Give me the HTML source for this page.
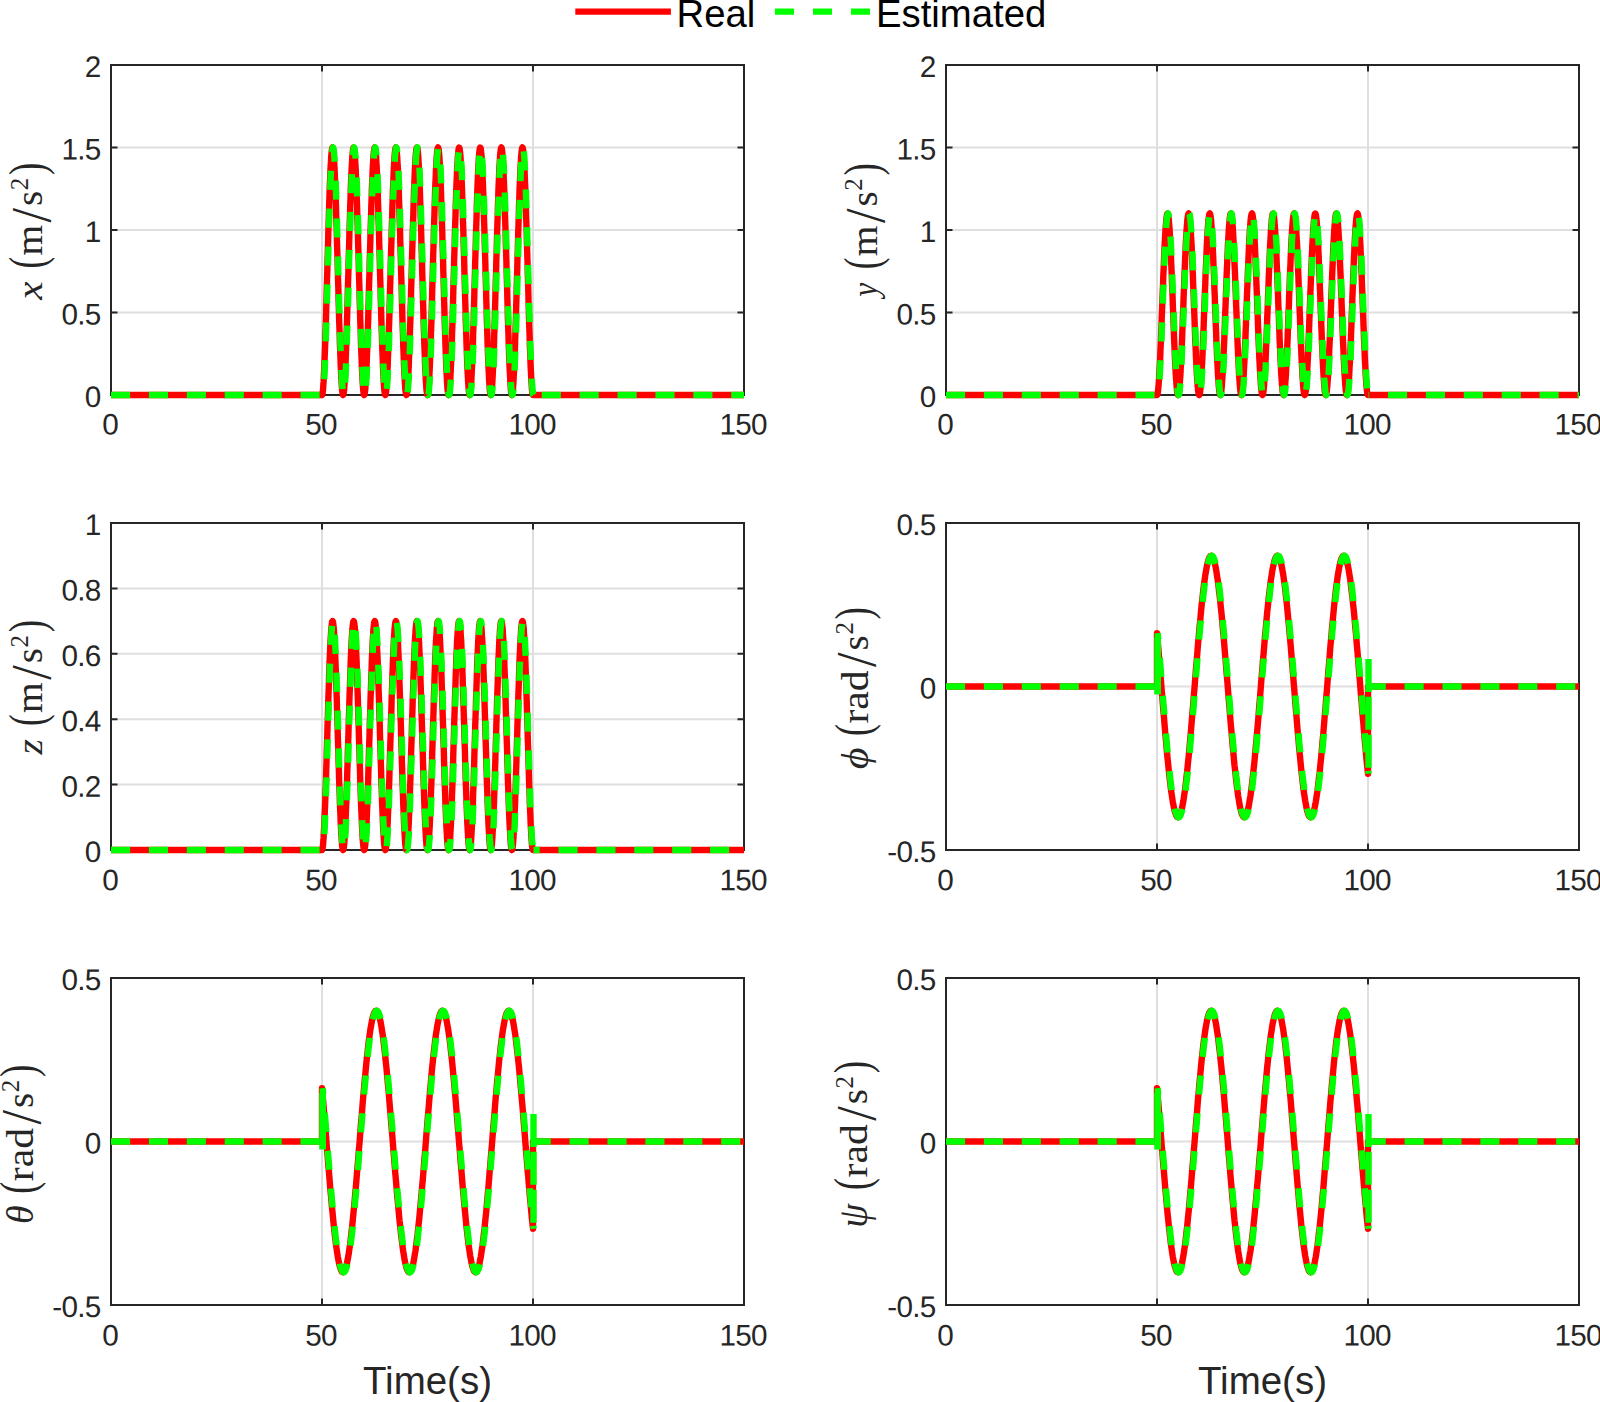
<!DOCTYPE html>
<html><head><meta charset="utf-8"><title>Real vs Estimated</title>
<style>
html,body{margin:0;padding:0;background:#fff;overflow:hidden;}
svg{display:block;}
.t{font-family:"Liberation Sans",sans-serif;font-size:29.7px;fill:#262626;letter-spacing:-0.7px;}
.l{font-family:"Liberation Sans",sans-serif;font-size:38.5px;fill:#262626;}
.s{font-family:"Liberation Serif",serif;fill:#262626;}
.si{font-family:"Liberation Serif",serif;font-style:italic;fill:#262626;}
.sl{font-family:"DejaVu Sans",sans-serif;font-weight:200;fill:#262626;}
</style></head><body>
<svg width="1600" height="1402" viewBox="0 0 1600 1402">
<rect width="1600" height="1402" fill="#fff"/>
<defs><clipPath id="c0"><rect x="110.7" y="61" width="633.6" height="338"/></clipPath><clipPath id="c1"><rect x="945.7" y="61" width="633.6" height="338"/></clipPath><clipPath id="c2"><rect x="110.7" y="519" width="633.6" height="335"/></clipPath><clipPath id="c3"><rect x="945.7" y="519" width="633.6" height="335"/></clipPath><clipPath id="c4"><rect x="110.7" y="974" width="633.6" height="335"/></clipPath><clipPath id="c5"><rect x="945.7" y="974" width="633.6" height="335"/></clipPath></defs>
<g>
<path d="M322 65V395M533 65V395M111 312.5H744M111 230H744M111 147.5H744" stroke="#dfdfdf" stroke-width="2" fill="none"/>
<path d="M111 65H744V395H111ZM322 395v-6.5M322 65v6.5M533 395v-6.5M533 65v6.5M111 312.5h6.5M744 312.5h-6.5M111 230h6.5M744 230h-6.5M111 147.5h6.5M744 147.5h-6.5" stroke="#262626" stroke-width="2" fill="none" stroke-linejoin="miter"/>
<g clip-path="url(#c0)" fill="none" stroke-width="6.4">
<path d="M111.0 395.0L322.0 395.0L322.3 394.6L322.5 393.5L322.8 391.6L323.1 388.9L323.3 385.6L323.6 381.5L323.8 376.8L324.1 371.4L324.4 365.4L324.6 358.8L324.9 351.6L325.2 344.0L325.4 335.9L325.7 327.4L326.0 318.6L326.2 309.5L326.5 300.1L326.7 290.6L327.0 281.0L327.3 271.3L327.5 261.5L327.8 251.9L328.1 242.4L328.3 233.0L328.6 223.9L328.9 215.1L329.1 206.6L329.4 198.5L329.6 190.9L329.9 183.7L330.2 177.1L330.4 171.1L330.7 165.7L331.0 161.0L331.2 156.9L331.5 153.6L331.8 150.9L332.0 149.0L332.3 147.9L332.6 147.5L332.8 147.9L333.1 149.0L333.3 150.9L333.6 153.6L333.9 156.9L334.1 161.0L334.4 165.7L334.7 171.1L334.9 177.1L335.2 183.7L335.5 190.9L335.7 198.5L336.0 206.6L336.2 215.1L336.5 223.9L336.8 233.0L337.0 242.4L337.3 251.9L337.6 261.5L337.8 271.2L338.1 281.0L338.4 290.6L338.6 300.1L338.9 309.5L339.1 318.6L339.4 327.4L339.7 335.9L339.9 344.0L340.2 351.6L340.5 358.8L340.7 365.4L341.0 371.4L341.3 376.8L341.5 381.5L341.8 385.6L342.0 388.9L342.3 391.6L342.6 393.5L342.8 394.6L343.1 395.0L343.4 394.6L343.6 393.5L343.9 391.6L344.2 388.9L344.4 385.6L344.7 381.5L344.9 376.8L345.2 371.4L345.5 365.4L345.7 358.8L346.0 351.6L346.3 344.0L346.5 335.9L346.8 327.4L347.1 318.6L347.3 309.5L347.6 300.1L347.8 290.6L348.1 281.0L348.4 271.3L348.6 261.5L348.9 251.9L349.2 242.4L349.4 233.0L349.7 223.9L350.0 215.1L350.2 206.6L350.5 198.5L350.7 190.9L351.0 183.7L351.3 177.1L351.5 171.1L351.8 165.7L352.1 161.0L352.3 156.9L352.6 153.6L352.9 150.9L353.1 149.0L353.4 147.9L353.6 147.5L353.9 147.9L354.2 149.0L354.4 150.9L354.7 153.6L355.0 156.9L355.2 161.0L355.5 165.7L355.8 171.1L356.0 177.1L356.3 183.7L356.6 190.9L356.8 198.5L357.1 206.6L357.3 215.1L357.6 223.9L357.9 233.0L358.1 242.4L358.4 251.9L358.7 261.5L358.9 271.2L359.2 281.0L359.5 290.6L359.7 300.1L360.0 309.5L360.2 318.6L360.5 327.4L360.8 335.9L361.0 344.0L361.3 351.6L361.6 358.8L361.8 365.4L362.1 371.4L362.4 376.8L362.6 381.5L362.9 385.6L363.1 388.9L363.4 391.6L363.7 393.5L363.9 394.6L364.2 395.0L364.5 394.6L364.7 393.5L365.0 391.6L365.3 388.9L365.5 385.6L365.8 381.5L366.0 376.8L366.3 371.4L366.6 365.4L366.8 358.8L367.1 351.6L367.4 344.0L367.6 335.9L367.9 327.4L368.2 318.6L368.4 309.5L368.7 300.1L368.9 290.6L369.2 281.0L369.5 271.3L369.7 261.5L370.0 251.9L370.3 242.4L370.5 233.0L370.8 223.9L371.1 215.1L371.3 206.6L371.6 198.5L371.8 190.9L372.1 183.7L372.4 177.1L372.6 171.1L372.9 165.7L373.2 161.0L373.4 156.9L373.7 153.6L374.0 150.9L374.2 149.0L374.5 147.9L374.8 147.5L375.0 147.9L375.3 149.0L375.5 150.9L375.8 153.6L376.1 156.9L376.3 161.0L376.6 165.7L376.9 171.1L377.1 177.1L377.4 183.7L377.7 190.9L377.9 198.5L378.2 206.6L378.4 215.1L378.7 223.9L379.0 233.0L379.2 242.4L379.5 251.9L379.8 261.5L380.0 271.3L380.3 281.0L380.6 290.6L380.8 300.1L381.1 309.5L381.3 318.6L381.6 327.4L381.9 335.9L382.1 344.0L382.4 351.6L382.7 358.8L382.9 365.4L383.2 371.4L383.5 376.8L383.7 381.5L384.0 385.6L384.2 388.9L384.5 391.6L384.8 393.5L385.0 394.6L385.3 395.0L385.6 394.6L385.8 393.5L386.1 391.6L386.4 388.9L386.6 385.6L386.9 381.5L387.1 376.8L387.4 371.4L387.7 365.4L387.9 358.8L388.2 351.6L388.5 344.0L388.7 335.9L389.0 327.4L389.3 318.6L389.5 309.5L389.8 300.1L390.0 290.6L390.3 281.0L390.6 271.3L390.8 261.5L391.1 251.9L391.4 242.4L391.6 233.0L391.9 223.9L392.2 215.1L392.4 206.6L392.7 198.5L392.9 190.9L393.2 183.7L393.5 177.1L393.7 171.1L394.0 165.7L394.3 161.0L394.5 156.9L394.8 153.6L395.1 150.9L395.3 149.0L395.6 147.9L395.9 147.5L396.1 147.9L396.4 149.0L396.6 150.9L396.9 153.6L397.2 156.9L397.4 161.0L397.7 165.7L398.0 171.1L398.2 177.1L398.5 183.7L398.8 190.9L399.0 198.5L399.3 206.6L399.5 215.1L399.8 223.9L400.1 233.0L400.3 242.4L400.6 251.9L400.9 261.5L401.1 271.2L401.4 281.0L401.7 290.6L401.9 300.1L402.2 309.5L402.4 318.6L402.7 327.4L403.0 335.9L403.2 344.0L403.5 351.6L403.8 358.8L404.0 365.4L404.3 371.4L404.6 376.8L404.8 381.5L405.1 385.6L405.3 388.9L405.6 391.6L405.9 393.5L406.1 394.6L406.4 395.0L406.7 394.6L406.9 393.5L407.2 391.6L407.5 388.9L407.7 385.6L408.0 381.5L408.2 376.8L408.5 371.4L408.8 365.4L409.0 358.8L409.3 351.6L409.6 344.0L409.8 335.9L410.1 327.4L410.4 318.6L410.6 309.5L410.9 300.1L411.1 290.6L411.4 281.0L411.7 271.2L411.9 261.5L412.2 251.9L412.5 242.4L412.7 233.0L413.0 223.9L413.3 215.1L413.5 206.6L413.8 198.5L414.0 190.9L414.3 183.7L414.6 177.1L414.8 171.1L415.1 165.7L415.4 161.0L415.6 156.9L415.9 153.6L416.2 150.9L416.4 149.0L416.7 147.9L416.9 147.5L417.2 147.9L417.5 149.0L417.7 150.9L418.0 153.6L418.3 156.9L418.5 161.0L418.8 165.7L419.1 171.1L419.3 177.1L419.6 183.7L419.9 190.9L420.1 198.5L420.4 206.6L420.6 215.1L420.9 223.9L421.2 233.0L421.4 242.4L421.7 251.9L422.0 261.5L422.2 271.3L422.5 281.0L422.8 290.6L423.0 300.1L423.3 309.5L423.5 318.6L423.8 327.4L424.1 335.9L424.3 344.0L424.6 351.6L424.9 358.8L425.1 365.4L425.4 371.4L425.7 376.8L425.9 381.5L426.2 385.6L426.4 388.9L426.7 391.6L427.0 393.5L427.2 394.6L427.5 395.0L427.8 394.6L428.0 393.5L428.3 391.6L428.6 388.9L428.8 385.6L429.1 381.5L429.3 376.8L429.6 371.4L429.9 365.4L430.1 358.8L430.4 351.6L430.7 344.0L430.9 335.9L431.2 327.4L431.5 318.6L431.7 309.5L432.0 300.1L432.2 290.6L432.5 281.0L432.8 271.2L433.0 261.5L433.3 251.9L433.6 242.4L433.8 233.0L434.1 223.9L434.4 215.1L434.6 206.6L434.9 198.5L435.1 190.9L435.4 183.7L435.7 177.1L435.9 171.1L436.2 165.7L436.5 161.0L436.7 156.9L437.0 153.6L437.3 150.9L437.5 149.0L437.8 147.9L438.1 147.5L438.3 147.9L438.6 149.0L438.8 150.9L439.1 153.6L439.4 156.9L439.6 161.0L439.9 165.7L440.2 171.1L440.4 177.1L440.7 183.7L441.0 190.9L441.2 198.5L441.5 206.6L441.7 215.1L442.0 223.9L442.3 233.0L442.5 242.4L442.8 251.9L443.1 261.5L443.3 271.3L443.6 281.0L443.9 290.6L444.1 300.1L444.4 309.5L444.6 318.6L444.9 327.4L445.2 335.9L445.4 344.0L445.7 351.6L446.0 358.8L446.2 365.4L446.5 371.4L446.8 376.8L447.0 381.5L447.3 385.6L447.5 388.9L447.8 391.6L448.1 393.5L448.3 394.6L448.6 395.0L448.9 394.6L449.1 393.5L449.4 391.6L449.7 388.9L449.9 385.6L450.2 381.5L450.4 376.8L450.7 371.4L451.0 365.4L451.2 358.8L451.5 351.6L451.8 344.0L452.0 335.9L452.3 327.4L452.6 318.6L452.8 309.5L453.1 300.1L453.3 290.6L453.6 281.0L453.9 271.3L454.1 261.5L454.4 251.9L454.7 242.4L454.9 233.0L455.2 223.9L455.5 215.1L455.7 206.6L456.0 198.5L456.2 190.9L456.5 183.7L456.8 177.1L457.0 171.1L457.3 165.7L457.6 161.0L457.8 156.9L458.1 153.6L458.4 150.9L458.6 149.0L458.9 147.9L459.1 147.5L459.4 147.9L459.7 149.0L459.9 150.9L460.2 153.6L460.5 156.9L460.7 161.0L461.0 165.7L461.3 171.1L461.5 177.1L461.8 183.7L462.1 190.9L462.3 198.5L462.6 206.6L462.8 215.1L463.1 223.9L463.4 233.0L463.6 242.4L463.9 251.9L464.2 261.5L464.4 271.2L464.7 281.0L465.0 290.6L465.2 300.1L465.5 309.5L465.7 318.6L466.0 327.4L466.3 335.9L466.5 344.0L466.8 351.6L467.1 358.8L467.3 365.4L467.6 371.4L467.9 376.8L468.1 381.5L468.4 385.6L468.6 388.9L468.9 391.6L469.2 393.5L469.4 394.6L469.7 395.0L470.0 394.6L470.2 393.5L470.5 391.6L470.8 388.9L471.0 385.6L471.3 381.5L471.5 376.8L471.8 371.4L472.1 365.4L472.3 358.8L472.6 351.6L472.9 344.0L473.1 335.9L473.4 327.4L473.7 318.6L473.9 309.5L474.2 300.1L474.4 290.6L474.7 281.0L475.0 271.2L475.2 261.5L475.5 251.9L475.8 242.4L476.0 233.0L476.3 223.9L476.6 215.1L476.8 206.6L477.1 198.5L477.3 190.9L477.6 183.7L477.9 177.1L478.1 171.1L478.4 165.7L478.7 161.0L478.9 156.9L479.2 153.6L479.5 150.9L479.7 149.0L480.0 147.9L480.2 147.5L480.5 147.9L480.8 149.0L481.0 150.9L481.3 153.6L481.6 156.9L481.8 161.0L482.1 165.7L482.4 171.1L482.6 177.1L482.9 183.7L483.2 190.9L483.4 198.5L483.7 206.6L483.9 215.1L484.2 223.9L484.5 233.0L484.7 242.4L485.0 251.9L485.3 261.5L485.5 271.2L485.8 281.0L486.1 290.6L486.3 300.1L486.6 309.5L486.8 318.6L487.1 327.4L487.4 335.9L487.6 344.0L487.9 351.6L488.2 358.8L488.4 365.4L488.7 371.4L489.0 376.8L489.2 381.5L489.5 385.6L489.7 388.9L490.0 391.6L490.3 393.5L490.5 394.6L490.8 395.0L491.1 394.6L491.3 393.5L491.6 391.6L491.9 388.9L492.1 385.6L492.4 381.5L492.6 376.8L492.9 371.4L493.2 365.4L493.4 358.8L493.7 351.6L494.0 344.0L494.2 335.9L494.5 327.4L494.8 318.6L495.0 309.5L495.3 300.1L495.5 290.6L495.8 281.0L496.1 271.3L496.3 261.5L496.6 251.9L496.9 242.4L497.1 233.0L497.4 223.9L497.7 215.1L497.9 206.6L498.2 198.5L498.4 190.9L498.7 183.7L499.0 177.1L499.2 171.1L499.5 165.7L499.8 161.0L500.0 156.9L500.3 153.6L500.6 150.9L500.8 149.0L501.1 147.9L501.4 147.5L501.6 147.9L501.9 149.0L502.1 150.9L502.4 153.6L502.7 156.9L502.9 161.0L503.2 165.7L503.5 171.1L503.7 177.1L504.0 183.7L504.3 190.9L504.5 198.5L504.8 206.6L505.0 215.1L505.3 223.9L505.6 233.0L505.8 242.4L506.1 251.9L506.4 261.5L506.6 271.2L506.9 281.0L507.2 290.6L507.4 300.1L507.7 309.5L507.9 318.6L508.2 327.4L508.5 335.9L508.7 344.0L509.0 351.6L509.3 358.8L509.5 365.4L509.8 371.4L510.1 376.8L510.3 381.5L510.6 385.6L510.8 388.9L511.1 391.6L511.4 393.5L511.6 394.6L511.9 395.0L512.2 394.6L512.4 393.5L512.7 391.6L513.0 388.9L513.2 385.6L513.5 381.5L513.7 376.8L514.0 371.4L514.3 365.4L514.5 358.8L514.8 351.6L515.1 344.0L515.3 335.9L515.6 327.4L515.9 318.6L516.1 309.5L516.4 300.1L516.6 290.6L516.9 281.0L517.2 271.3L517.4 261.5L517.7 251.9L518.0 242.4L518.2 233.0L518.5 223.9L518.8 215.1L519.0 206.6L519.3 198.5L519.5 190.9L519.8 183.7L520.1 177.1L520.3 171.1L520.6 165.7L520.9 161.0L521.1 156.9L521.4 153.6L521.7 150.9L521.9 149.0L522.2 147.9L522.5 147.5L522.7 147.9L523.0 149.0L523.2 150.9L523.5 153.6L523.8 156.9L524.0 161.0L524.3 165.7L524.6 171.1L524.8 177.1L525.1 183.7L525.4 190.9L525.6 198.5L525.9 206.6L526.1 215.1L526.4 223.9L526.7 233.0L526.9 242.4L527.2 251.9L527.5 261.5L527.7 271.2L528.0 281.0L528.3 290.6L528.5 300.1L528.8 309.5L529.0 318.6L529.3 327.4L529.6 335.9L529.8 344.0L530.1 351.6L530.4 358.8L530.6 365.4L530.9 371.4L531.2 376.8L531.4 381.5L531.7 385.6L531.9 388.9L532.2 391.6L532.5 393.5L532.7 394.6L533.0 395.0L744.0 395.0" stroke="#ff0000" stroke-linejoin="round"/>
<path d="M111.0 395.0L322.5 395.0L322.8 394.6L323.0 393.5L323.3 391.6L323.6 388.9L323.8 385.6L324.1 381.5L324.4 376.8L324.6 371.4L324.9 365.4L325.1 358.8L325.4 351.6L325.7 344.0L325.9 335.9L326.2 327.4L326.5 318.6L326.7 309.5L327.0 300.1L327.3 290.6L327.5 281.0L327.8 271.3L328.0 261.5L328.3 251.9L328.6 242.4L328.8 233.0L329.1 223.9L329.4 215.1L329.6 206.6L329.9 198.5L330.2 190.9L330.4 183.7L330.7 177.1L330.9 171.1L331.2 165.7L331.5 161.0L331.7 156.9L332.0 153.6L332.3 150.9L332.5 149.0L332.8 147.9L333.1 147.5L333.3 147.9L333.6 149.0L333.8 150.9L334.1 153.6L334.4 156.9L334.6 161.0L334.9 165.7L335.2 171.1L335.4 177.1L335.7 183.7L336.0 190.9L336.2 198.5L336.5 206.6L336.7 215.1L337.0 223.9L337.3 233.0L337.5 242.4L337.8 251.9L338.1 261.5L338.3 271.2L338.6 281.0L338.9 290.6L339.1 300.1L339.4 309.5L339.7 318.6L339.9 327.4L340.2 335.9L340.4 344.0L340.7 351.6L341.0 358.8L341.2 365.4L341.5 371.4L341.8 376.8L342.0 381.5L342.3 385.6L342.6 388.9L342.8 391.6L343.1 393.5L343.3 394.6L343.6 395.0L343.9 394.6L344.1 393.5L344.4 391.6L344.7 388.9L344.9 385.6L345.2 381.5L345.5 376.8L345.7 371.4L346.0 365.4L346.2 358.8L346.5 351.6L346.8 344.0L347.0 335.9L347.3 327.4L347.6 318.6L347.8 309.5L348.1 300.1L348.4 290.6L348.6 281.0L348.9 271.3L349.1 261.5L349.4 251.9L349.7 242.4L349.9 233.0L350.2 223.9L350.5 215.1L350.7 206.6L351.0 198.5L351.3 190.9L351.5 183.7L351.8 177.1L352.0 171.1L352.3 165.7L352.6 161.0L352.8 156.9L353.1 153.6L353.4 150.9L353.6 149.0L353.9 147.9L354.2 147.5L354.4 147.9L354.7 149.0L354.9 150.9L355.2 153.6L355.5 156.9L355.7 161.0L356.0 165.7L356.3 171.1L356.5 177.1L356.8 183.7L357.1 190.9L357.3 198.5L357.6 206.6L357.8 215.1L358.1 223.9L358.4 233.0L358.6 242.4L358.9 251.9L359.2 261.5L359.4 271.2L359.7 281.0L360.0 290.6L360.2 300.1L360.5 309.5L360.8 318.6L361.0 327.4L361.3 335.9L361.5 344.0L361.8 351.6L362.1 358.8L362.3 365.4L362.6 371.4L362.9 376.8L363.1 381.5L363.4 385.6L363.7 388.9L363.9 391.6L364.2 393.5L364.4 394.6L364.7 395.0L365.0 394.6L365.2 393.5L365.5 391.6L365.8 388.9L366.0 385.6L366.3 381.5L366.6 376.8L366.8 371.4L367.1 365.4L367.3 358.8L367.6 351.6L367.9 344.0L368.1 335.9L368.4 327.4L368.7 318.6L368.9 309.5L369.2 300.1L369.5 290.6L369.7 281.0L370.0 271.3L370.2 261.5L370.5 251.9L370.8 242.4L371.0 233.0L371.3 223.9L371.6 215.1L371.8 206.6L372.1 198.5L372.4 190.9L372.6 183.7L372.9 177.1L373.1 171.1L373.4 165.7L373.7 161.0L373.9 156.9L374.2 153.6L374.5 150.9L374.7 149.0L375.0 147.9L375.3 147.5L375.5 147.9L375.8 149.0L376.0 150.9L376.3 153.6L376.6 156.9L376.8 161.0L377.1 165.7L377.4 171.1L377.6 177.1L377.9 183.7L378.2 190.9L378.4 198.5L378.7 206.6L378.9 215.1L379.2 223.9L379.5 233.0L379.7 242.4L380.0 251.9L380.3 261.5L380.5 271.3L380.8 281.0L381.1 290.6L381.3 300.1L381.6 309.5L381.9 318.6L382.1 327.4L382.4 335.9L382.6 344.0L382.9 351.6L383.2 358.8L383.4 365.4L383.7 371.4L384.0 376.8L384.2 381.5L384.5 385.6L384.8 388.9L385.0 391.6L385.3 393.5L385.5 394.6L385.8 395.0L386.1 394.6L386.3 393.5L386.6 391.6L386.9 388.9L387.1 385.6L387.4 381.5L387.7 376.8L387.9 371.4L388.2 365.4L388.4 358.8L388.7 351.6L389.0 344.0L389.2 335.9L389.5 327.4L389.8 318.6L390.0 309.5L390.3 300.1L390.6 290.6L390.8 281.0L391.1 271.3L391.3 261.5L391.6 251.9L391.9 242.4L392.1 233.0L392.4 223.9L392.7 215.1L392.9 206.6L393.2 198.5L393.5 190.9L393.7 183.7L394.0 177.1L394.2 171.1L394.5 165.7L394.8 161.0L395.0 156.9L395.3 153.6L395.6 150.9L395.8 149.0L396.1 147.9L396.4 147.5L396.6 147.9L396.9 149.0L397.1 150.9L397.4 153.6L397.7 156.9L397.9 161.0L398.2 165.7L398.5 171.1L398.7 177.1L399.0 183.7L399.3 190.9L399.5 198.5L399.8 206.6L400.0 215.1L400.3 223.9L400.6 233.0L400.8 242.4L401.1 251.9L401.4 261.5L401.6 271.2L401.9 281.0L402.2 290.6L402.4 300.1L402.7 309.5L403.0 318.6L403.2 327.4L403.5 335.9L403.7 344.0L404.0 351.6L404.3 358.8L404.5 365.4L404.8 371.4L405.1 376.8L405.3 381.5L405.6 385.6L405.9 388.9L406.1 391.6L406.4 393.5L406.6 394.6L406.9 395.0L407.2 394.6L407.4 393.5L407.7 391.6L408.0 388.9L408.2 385.6L408.5 381.5L408.8 376.8L409.0 371.4L409.3 365.4L409.5 358.8L409.8 351.6L410.1 344.0L410.3 335.9L410.6 327.4L410.9 318.6L411.1 309.5L411.4 300.1L411.7 290.6L411.9 281.0L412.2 271.2L412.4 261.5L412.7 251.9L413.0 242.4L413.2 233.0L413.5 223.9L413.8 215.1L414.0 206.6L414.3 198.5L414.6 190.9L414.8 183.7L415.1 177.1L415.3 171.1L415.6 165.7L415.9 161.0L416.1 156.9L416.4 153.6L416.7 150.9L416.9 149.0L417.2 147.9L417.5 147.5L417.7 147.9L418.0 149.0L418.2 150.9L418.5 153.6L418.8 156.9L419.0 161.0L419.3 165.7L419.6 171.1L419.8 177.1L420.1 183.7L420.4 190.9L420.6 198.5L420.9 206.6L421.1 215.1L421.4 223.9L421.7 233.0L421.9 242.4L422.2 251.9L422.5 261.5L422.7 271.3L423.0 281.0L423.3 290.6L423.5 300.1L423.8 309.5L424.1 318.6L424.3 327.4L424.6 335.9L424.8 344.0L425.1 351.6L425.4 358.8L425.6 365.4L425.9 371.4L426.2 376.8L426.4 381.5L426.7 385.6L427.0 388.9L427.2 391.6L427.5 393.5L427.7 394.6L428.0 395.0L428.3 394.6L428.5 393.5L428.8 391.6L429.1 388.9L429.3 385.6L429.6 381.5L429.9 376.8L430.1 371.4L430.4 365.4L430.6 358.8L430.9 351.6L431.2 344.0L431.4 335.9L431.7 327.4L432.0 318.6L432.2 309.5L432.5 300.1L432.8 290.6L433.0 281.0L433.3 271.2L433.5 261.5L433.8 251.9L434.1 242.4L434.3 233.0L434.6 223.9L434.9 215.1L435.1 206.6L435.4 198.5L435.7 190.9L435.9 183.7L436.2 177.1L436.4 171.1L436.7 165.7L437.0 161.0L437.2 156.9L437.5 153.6L437.8 150.9L438.0 149.0L438.3 147.9L438.6 147.5L438.8 147.9L439.1 149.0L439.3 150.9L439.6 153.6L439.9 156.9L440.1 161.0L440.4 165.7L440.7 171.1L440.9 177.1L441.2 183.7L441.5 190.9L441.7 198.5L442.0 206.6L442.2 215.1L442.5 223.9L442.8 233.0L443.0 242.4L443.3 251.9L443.6 261.5L443.8 271.3L444.1 281.0L444.4 290.6L444.6 300.1L444.9 309.5L445.2 318.6L445.4 327.4L445.7 335.9L445.9 344.0L446.2 351.6L446.5 358.8L446.7 365.4L447.0 371.4L447.3 376.8L447.5 381.5L447.8 385.6L448.1 388.9L448.3 391.6L448.6 393.5L448.8 394.6L449.1 395.0L449.4 394.6L449.6 393.5L449.9 391.6L450.2 388.9L450.4 385.6L450.7 381.5L451.0 376.8L451.2 371.4L451.5 365.4L451.7 358.8L452.0 351.6L452.3 344.0L452.5 335.9L452.8 327.4L453.1 318.6L453.3 309.5L453.6 300.1L453.9 290.6L454.1 281.0L454.4 271.3L454.6 261.5L454.9 251.9L455.2 242.4L455.4 233.0L455.7 223.9L456.0 215.1L456.2 206.6L456.5 198.5L456.8 190.9L457.0 183.7L457.3 177.1L457.5 171.1L457.8 165.7L458.1 161.0L458.3 156.9L458.6 153.6L458.9 150.9L459.1 149.0L459.4 147.9L459.7 147.5L459.9 147.9L460.2 149.0L460.4 150.9L460.7 153.6L461.0 156.9L461.2 161.0L461.5 165.7L461.8 171.1L462.0 177.1L462.3 183.7L462.6 190.9L462.8 198.5L463.1 206.6L463.3 215.1L463.6 223.9L463.9 233.0L464.1 242.4L464.4 251.9L464.7 261.5L464.9 271.2L465.2 281.0L465.5 290.6L465.7 300.1L466.0 309.5L466.3 318.6L466.5 327.4L466.8 335.9L467.0 344.0L467.3 351.6L467.6 358.8L467.8 365.4L468.1 371.4L468.4 376.8L468.6 381.5L468.9 385.6L469.2 388.9L469.4 391.6L469.7 393.5L469.9 394.6L470.2 395.0L470.5 394.6L470.7 393.5L471.0 391.6L471.3 388.9L471.5 385.6L471.8 381.5L472.1 376.8L472.3 371.4L472.6 365.4L472.8 358.8L473.1 351.6L473.4 344.0L473.6 335.9L473.9 327.4L474.2 318.6L474.4 309.5L474.7 300.1L475.0 290.6L475.2 281.0L475.5 271.2L475.7 261.5L476.0 251.9L476.3 242.4L476.5 233.0L476.8 223.9L477.1 215.1L477.3 206.6L477.6 198.5L477.9 190.9L478.1 183.7L478.4 177.1L478.6 171.1L478.9 165.7L479.2 161.0L479.4 156.9L479.7 153.6L480.0 150.9L480.2 149.0L480.5 147.9L480.8 147.5L481.0 147.9L481.3 149.0L481.5 150.9L481.8 153.6L482.1 156.9L482.3 161.0L482.6 165.7L482.9 171.1L483.1 177.1L483.4 183.7L483.7 190.9L483.9 198.5L484.2 206.6L484.4 215.1L484.7 223.9L485.0 233.0L485.2 242.4L485.5 251.9L485.8 261.5L486.0 271.2L486.3 281.0L486.6 290.6L486.8 300.1L487.1 309.5L487.4 318.6L487.6 327.4L487.9 335.9L488.1 344.0L488.4 351.6L488.7 358.8L488.9 365.4L489.2 371.4L489.5 376.8L489.7 381.5L490.0 385.6L490.3 388.9L490.5 391.6L490.8 393.5L491.0 394.6L491.3 395.0L491.6 394.6L491.8 393.5L492.1 391.6L492.4 388.9L492.6 385.6L492.9 381.5L493.2 376.8L493.4 371.4L493.7 365.4L493.9 358.8L494.2 351.6L494.5 344.0L494.7 335.9L495.0 327.4L495.3 318.6L495.5 309.5L495.8 300.1L496.1 290.6L496.3 281.0L496.6 271.3L496.8 261.5L497.1 251.9L497.4 242.4L497.6 233.0L497.9 223.9L498.2 215.1L498.4 206.6L498.7 198.5L499.0 190.9L499.2 183.7L499.5 177.1L499.7 171.1L500.0 165.7L500.3 161.0L500.5 156.9L500.8 153.6L501.1 150.9L501.3 149.0L501.6 147.9L501.9 147.5L502.1 147.9L502.4 149.0L502.6 150.9L502.9 153.6L503.2 156.9L503.4 161.0L503.7 165.7L504.0 171.1L504.2 177.1L504.5 183.7L504.8 190.9L505.0 198.5L505.3 206.6L505.5 215.1L505.8 223.9L506.1 233.0L506.3 242.4L506.6 251.9L506.9 261.5L507.1 271.2L507.4 281.0L507.7 290.6L507.9 300.1L508.2 309.5L508.5 318.6L508.7 327.4L509.0 335.9L509.2 344.0L509.5 351.6L509.8 358.8L510.0 365.4L510.3 371.4L510.6 376.8L510.8 381.5L511.1 385.6L511.4 388.9L511.6 391.6L511.9 393.5L512.1 394.6L512.4 395.0L512.7 394.6L512.9 393.5L513.2 391.6L513.5 388.9L513.7 385.6L514.0 381.5L514.3 376.8L514.5 371.4L514.8 365.4L515.0 358.8L515.3 351.6L515.6 344.0L515.8 335.9L516.1 327.4L516.4 318.6L516.6 309.5L516.9 300.1L517.2 290.6L517.4 281.0L517.7 271.3L517.9 261.5L518.2 251.9L518.5 242.4L518.7 233.0L519.0 223.9L519.3 215.1L519.5 206.6L519.8 198.5L520.1 190.9L520.3 183.7L520.6 177.1L520.8 171.1L521.1 165.7L521.4 161.0L521.6 156.9L521.9 153.6L522.2 150.9L522.4 149.0L522.7 147.9L523.0 147.5L523.2 147.9L523.5 149.0L523.7 150.9L524.0 153.6L524.3 156.9L524.5 161.0L524.8 165.7L525.1 171.1L525.3 177.1L525.6 183.7L525.9 190.9L526.1 198.5L526.4 206.6L526.6 215.1L526.9 223.9L527.2 233.0L527.4 242.4L527.7 251.9L528.0 261.5L528.2 271.2L528.5 281.0L528.8 290.6L529.0 300.1L529.3 309.5L529.6 318.6L529.8 327.4L530.1 335.9L530.3 344.0L530.6 351.6L530.9 358.8L531.1 365.4L531.4 371.4L531.7 376.8L531.9 381.5L532.2 385.6L532.5 388.9L532.7 391.6L533.0 393.5L533.2 394.6L533.5 395.0" stroke="#00ff00" stroke-dasharray="19.1 18.8" stroke-linejoin="round"/>
<path d="M533.5 395.0L744.0 395.0" stroke="#00ff00" stroke-dasharray="19.1 18.8" stroke-dashoffset="29.66"/>
</g>
<text class="t" transform="translate(110.1 434.6) rotate(0.03) scale(1 1)" text-anchor="middle">0</text>
<text class="t" transform="translate(321.1 434.6) rotate(0.03) scale(1 1)" text-anchor="middle">50</text>
<text class="t" transform="translate(532.1 434.6) rotate(0.03) scale(1 1)" text-anchor="middle">100</text>
<text class="t" transform="translate(743.1 434.6) rotate(0.03) scale(1 1)" text-anchor="middle">150</text>
<text class="t" transform="translate(100.6 407.1) rotate(0.03) scale(1 1)" text-anchor="end">0</text>
<text class="t" transform="translate(100.6 324.6) rotate(0.03) scale(1 1)" text-anchor="end">0.5</text>
<text class="t" transform="translate(100.6 242.1) rotate(0.03) scale(1 1)" text-anchor="end">1</text>
<text class="t" transform="translate(100.6 159.6) rotate(0.03) scale(1 1)" text-anchor="end">1.5</text>
<text class="t" transform="translate(100.6 77.1) rotate(0.03) scale(1 1)" text-anchor="end">2</text>
</g>
<g>
<path d="M1157 65V395M1368 65V395M946 312.5H1579M946 230H1579M946 147.5H1579" stroke="#dfdfdf" stroke-width="2" fill="none"/>
<path d="M946 65H1579V395H946ZM1157 395v-6.5M1157 65v6.5M1368 395v-6.5M1368 65v6.5M946 312.5h6.5M1579 312.5h-6.5M946 230h6.5M1579 230h-6.5M946 147.5h6.5M1579 147.5h-6.5" stroke="#262626" stroke-width="2" fill="none" stroke-linejoin="miter"/>
<g clip-path="url(#c1)" fill="none" stroke-width="6.4">
<path d="M946.0 395.0L1157.0 395.0L1157.3 394.7L1157.5 393.9L1157.8 392.5L1158.1 390.6L1158.3 388.1L1158.6 385.1L1158.8 381.6L1159.1 377.7L1159.4 373.3L1159.6 368.4L1159.9 363.2L1160.2 357.6L1160.4 351.7L1160.7 345.4L1161.0 339.0L1161.2 332.3L1161.5 325.4L1161.7 318.4L1162.0 311.4L1162.3 304.2L1162.5 297.1L1162.8 290.1L1163.1 283.1L1163.3 276.2L1163.6 269.5L1163.9 263.1L1164.1 256.8L1164.4 250.9L1164.6 245.3L1164.9 240.1L1165.2 235.2L1165.4 230.8L1165.7 226.9L1166.0 223.4L1166.2 220.4L1166.5 217.9L1166.8 216.0L1167.0 214.6L1167.3 213.8L1167.5 213.5L1167.8 213.8L1168.1 214.6L1168.3 216.0L1168.6 217.9L1168.9 220.4L1169.1 223.4L1169.4 226.9L1169.7 230.8L1169.9 235.2L1170.2 240.1L1170.5 245.3L1170.7 250.9L1171.0 256.8L1171.2 263.1L1171.5 269.5L1171.8 276.2L1172.0 283.1L1172.3 290.1L1172.6 297.1L1172.8 304.2L1173.1 311.4L1173.4 318.4L1173.6 325.4L1173.9 332.3L1174.1 339.0L1174.4 345.4L1174.7 351.7L1174.9 357.6L1175.2 363.2L1175.5 368.4L1175.7 373.3L1176.0 377.7L1176.3 381.6L1176.5 385.1L1176.8 388.1L1177.0 390.6L1177.3 392.5L1177.6 393.9L1177.8 394.7L1178.1 395.0L1178.4 394.7L1178.6 393.9L1178.9 392.5L1179.2 390.6L1179.4 388.1L1179.7 385.1L1179.9 381.6L1180.2 377.7L1180.5 373.3L1180.7 368.4L1181.0 363.2L1181.3 357.6L1181.5 351.7L1181.8 345.4L1182.1 339.0L1182.3 332.3L1182.6 325.4L1182.8 318.4L1183.1 311.4L1183.4 304.2L1183.6 297.1L1183.9 290.1L1184.2 283.1L1184.4 276.2L1184.7 269.5L1185.0 263.1L1185.2 256.8L1185.5 250.9L1185.7 245.3L1186.0 240.1L1186.3 235.2L1186.5 230.8L1186.8 226.9L1187.1 223.4L1187.3 220.4L1187.6 217.9L1187.9 216.0L1188.1 214.6L1188.4 213.8L1188.7 213.5L1188.9 213.8L1189.2 214.6L1189.4 216.0L1189.7 217.9L1190.0 220.4L1190.2 223.4L1190.5 226.9L1190.8 230.8L1191.0 235.2L1191.3 240.1L1191.6 245.3L1191.8 250.9L1192.1 256.8L1192.3 263.1L1192.6 269.5L1192.9 276.2L1193.1 283.1L1193.4 290.1L1193.7 297.1L1193.9 304.2L1194.2 311.4L1194.5 318.4L1194.7 325.4L1195.0 332.3L1195.2 339.0L1195.5 345.4L1195.8 351.7L1196.0 357.6L1196.3 363.2L1196.6 368.4L1196.8 373.3L1197.1 377.7L1197.4 381.6L1197.6 385.1L1197.9 388.1L1198.1 390.6L1198.4 392.5L1198.7 393.9L1198.9 394.7L1199.2 395.0L1199.5 394.7L1199.7 393.9L1200.0 392.5L1200.3 390.6L1200.5 388.1L1200.8 385.1L1201.0 381.6L1201.3 377.7L1201.6 373.3L1201.8 368.4L1202.1 363.2L1202.4 357.6L1202.6 351.7L1202.9 345.4L1203.2 339.0L1203.4 332.3L1203.7 325.4L1203.9 318.4L1204.2 311.4L1204.5 304.2L1204.7 297.1L1205.0 290.1L1205.3 283.1L1205.5 276.2L1205.8 269.5L1206.1 263.1L1206.3 256.8L1206.6 250.9L1206.8 245.3L1207.1 240.1L1207.4 235.2L1207.6 230.8L1207.9 226.9L1208.2 223.4L1208.4 220.4L1208.7 217.9L1209.0 216.0L1209.2 214.6L1209.5 213.8L1209.8 213.5L1210.0 213.8L1210.3 214.6L1210.5 216.0L1210.8 217.9L1211.1 220.4L1211.3 223.4L1211.6 226.9L1211.9 230.8L1212.1 235.2L1212.4 240.1L1212.7 245.3L1212.9 250.9L1213.2 256.8L1213.4 263.1L1213.7 269.5L1214.0 276.2L1214.2 283.1L1214.5 290.1L1214.8 297.1L1215.0 304.3L1215.3 311.4L1215.6 318.4L1215.8 325.4L1216.1 332.3L1216.3 339.0L1216.6 345.4L1216.9 351.7L1217.1 357.6L1217.4 363.2L1217.7 368.4L1217.9 373.3L1218.2 377.7L1218.5 381.6L1218.7 385.1L1219.0 388.1L1219.2 390.6L1219.5 392.5L1219.8 393.9L1220.0 394.7L1220.3 395.0L1220.6 394.7L1220.8 393.9L1221.1 392.5L1221.4 390.6L1221.6 388.1L1221.9 385.1L1222.1 381.6L1222.4 377.7L1222.7 373.3L1222.9 368.4L1223.2 363.2L1223.5 357.6L1223.7 351.7L1224.0 345.4L1224.3 339.0L1224.5 332.3L1224.8 325.4L1225.0 318.4L1225.3 311.4L1225.6 304.3L1225.8 297.1L1226.1 290.1L1226.4 283.1L1226.6 276.2L1226.9 269.5L1227.2 263.1L1227.4 256.8L1227.7 250.9L1227.9 245.3L1228.2 240.1L1228.5 235.2L1228.7 230.8L1229.0 226.9L1229.3 223.4L1229.5 220.4L1229.8 217.9L1230.1 216.0L1230.3 214.6L1230.6 213.8L1230.8 213.5L1231.1 213.8L1231.4 214.6L1231.6 216.0L1231.9 217.9L1232.2 220.4L1232.4 223.4L1232.7 226.9L1233.0 230.8L1233.2 235.2L1233.5 240.1L1233.8 245.3L1234.0 250.9L1234.3 256.8L1234.5 263.1L1234.8 269.5L1235.1 276.2L1235.3 283.1L1235.6 290.1L1235.9 297.1L1236.1 304.2L1236.4 311.4L1236.7 318.4L1236.9 325.4L1237.2 332.3L1237.4 339.0L1237.7 345.4L1238.0 351.7L1238.2 357.6L1238.5 363.2L1238.8 368.4L1239.0 373.3L1239.3 377.7L1239.6 381.6L1239.8 385.1L1240.1 388.1L1240.3 390.6L1240.6 392.5L1240.9 393.9L1241.1 394.7L1241.4 395.0L1241.7 394.7L1241.9 393.9L1242.2 392.5L1242.5 390.6L1242.7 388.1L1243.0 385.1L1243.2 381.6L1243.5 377.7L1243.8 373.3L1244.0 368.4L1244.3 363.2L1244.6 357.6L1244.8 351.7L1245.1 345.4L1245.4 339.0L1245.6 332.3L1245.9 325.4L1246.1 318.4L1246.4 311.4L1246.7 304.2L1246.9 297.1L1247.2 290.1L1247.5 283.1L1247.7 276.2L1248.0 269.5L1248.3 263.1L1248.5 256.8L1248.8 250.9L1249.0 245.3L1249.3 240.1L1249.6 235.2L1249.8 230.8L1250.1 226.9L1250.4 223.4L1250.6 220.4L1250.9 217.9L1251.2 216.0L1251.4 214.6L1251.7 213.8L1252.0 213.5L1252.2 213.8L1252.5 214.6L1252.7 216.0L1253.0 217.9L1253.3 220.4L1253.5 223.4L1253.8 226.9L1254.1 230.8L1254.3 235.2L1254.6 240.1L1254.9 245.3L1255.1 250.9L1255.4 256.8L1255.6 263.1L1255.9 269.5L1256.2 276.2L1256.4 283.1L1256.7 290.1L1257.0 297.1L1257.2 304.2L1257.5 311.4L1257.8 318.4L1258.0 325.4L1258.3 332.3L1258.5 339.0L1258.8 345.4L1259.1 351.7L1259.3 357.6L1259.6 363.2L1259.9 368.4L1260.1 373.3L1260.4 377.7L1260.7 381.6L1260.9 385.1L1261.2 388.1L1261.4 390.6L1261.7 392.5L1262.0 393.9L1262.2 394.7L1262.5 395.0L1262.8 394.7L1263.0 393.9L1263.3 392.5L1263.6 390.6L1263.8 388.1L1264.1 385.1L1264.3 381.6L1264.6 377.7L1264.9 373.3L1265.1 368.4L1265.4 363.2L1265.7 357.6L1265.9 351.7L1266.2 345.4L1266.5 339.0L1266.7 332.3L1267.0 325.4L1267.2 318.4L1267.5 311.4L1267.8 304.2L1268.0 297.1L1268.3 290.1L1268.6 283.1L1268.8 276.2L1269.1 269.5L1269.4 263.1L1269.6 256.8L1269.9 250.9L1270.1 245.3L1270.4 240.1L1270.7 235.2L1270.9 230.8L1271.2 226.9L1271.5 223.4L1271.7 220.4L1272.0 217.9L1272.3 216.0L1272.5 214.6L1272.8 213.8L1273.0 213.5L1273.3 213.8L1273.6 214.6L1273.8 216.0L1274.1 217.9L1274.4 220.4L1274.6 223.4L1274.9 226.9L1275.2 230.8L1275.4 235.2L1275.7 240.1L1276.0 245.3L1276.2 250.9L1276.5 256.8L1276.7 263.1L1277.0 269.5L1277.3 276.2L1277.5 283.1L1277.8 290.1L1278.1 297.1L1278.3 304.3L1278.6 311.4L1278.9 318.4L1279.1 325.4L1279.4 332.3L1279.6 339.0L1279.9 345.4L1280.2 351.7L1280.4 357.6L1280.7 363.2L1281.0 368.4L1281.2 373.3L1281.5 377.7L1281.8 381.6L1282.0 385.1L1282.3 388.1L1282.5 390.6L1282.8 392.5L1283.1 393.9L1283.3 394.7L1283.6 395.0L1283.9 394.7L1284.1 393.9L1284.4 392.5L1284.7 390.6L1284.9 388.1L1285.2 385.1L1285.4 381.6L1285.7 377.7L1286.0 373.3L1286.2 368.4L1286.5 363.2L1286.8 357.6L1287.0 351.7L1287.3 345.4L1287.6 339.0L1287.8 332.3L1288.1 325.4L1288.3 318.4L1288.6 311.4L1288.9 304.3L1289.1 297.1L1289.4 290.1L1289.7 283.1L1289.9 276.2L1290.2 269.5L1290.5 263.1L1290.7 256.8L1291.0 250.9L1291.2 245.3L1291.5 240.1L1291.8 235.2L1292.0 230.8L1292.3 226.9L1292.6 223.4L1292.8 220.4L1293.1 217.9L1293.4 216.0L1293.6 214.6L1293.9 213.8L1294.2 213.5L1294.4 213.8L1294.7 214.6L1294.9 216.0L1295.2 217.9L1295.5 220.4L1295.7 223.4L1296.0 226.9L1296.3 230.8L1296.5 235.2L1296.8 240.1L1297.1 245.3L1297.3 250.9L1297.6 256.8L1297.8 263.1L1298.1 269.5L1298.4 276.2L1298.6 283.1L1298.9 290.1L1299.2 297.1L1299.4 304.2L1299.7 311.4L1300.0 318.4L1300.2 325.4L1300.5 332.3L1300.7 339.0L1301.0 345.4L1301.3 351.7L1301.5 357.6L1301.8 363.2L1302.1 368.4L1302.3 373.3L1302.6 377.7L1302.9 381.6L1303.1 385.1L1303.4 388.1L1303.6 390.6L1303.9 392.5L1304.2 393.9L1304.4 394.7L1304.7 395.0L1305.0 394.7L1305.2 393.9L1305.5 392.5L1305.8 390.6L1306.0 388.1L1306.3 385.1L1306.5 381.6L1306.8 377.7L1307.1 373.3L1307.3 368.4L1307.6 363.2L1307.9 357.6L1308.1 351.7L1308.4 345.4L1308.7 339.0L1308.9 332.3L1309.2 325.4L1309.4 318.4L1309.7 311.4L1310.0 304.2L1310.2 297.1L1310.5 290.1L1310.8 283.1L1311.0 276.2L1311.3 269.5L1311.6 263.1L1311.8 256.8L1312.1 250.9L1312.3 245.3L1312.6 240.1L1312.9 235.2L1313.1 230.8L1313.4 226.9L1313.7 223.4L1313.9 220.4L1314.2 217.9L1314.5 216.0L1314.7 214.6L1315.0 213.8L1315.2 213.5L1315.5 213.8L1315.8 214.6L1316.0 216.0L1316.3 217.9L1316.6 220.4L1316.8 223.4L1317.1 226.9L1317.4 230.8L1317.6 235.2L1317.9 240.1L1318.2 245.3L1318.4 250.9L1318.7 256.8L1318.9 263.1L1319.2 269.5L1319.5 276.2L1319.7 283.1L1320.0 290.1L1320.3 297.1L1320.5 304.2L1320.8 311.4L1321.1 318.4L1321.3 325.4L1321.6 332.3L1321.8 339.0L1322.1 345.4L1322.4 351.7L1322.6 357.6L1322.9 363.2L1323.2 368.4L1323.4 373.3L1323.7 377.7L1324.0 381.6L1324.2 385.1L1324.5 388.1L1324.7 390.6L1325.0 392.5L1325.3 393.9L1325.5 394.7L1325.8 395.0L1326.1 394.7L1326.3 393.9L1326.6 392.5L1326.9 390.6L1327.1 388.1L1327.4 385.1L1327.6 381.6L1327.9 377.7L1328.2 373.3L1328.4 368.4L1328.7 363.2L1329.0 357.6L1329.2 351.7L1329.5 345.4L1329.8 339.0L1330.0 332.3L1330.3 325.4L1330.5 318.4L1330.8 311.4L1331.1 304.3L1331.3 297.1L1331.6 290.1L1331.9 283.1L1332.1 276.2L1332.4 269.5L1332.7 263.1L1332.9 256.8L1333.2 250.9L1333.4 245.3L1333.7 240.1L1334.0 235.2L1334.2 230.8L1334.5 226.9L1334.8 223.4L1335.0 220.4L1335.3 217.9L1335.6 216.0L1335.8 214.6L1336.1 213.8L1336.3 213.5L1336.6 213.8L1336.9 214.6L1337.1 216.0L1337.4 217.9L1337.7 220.4L1337.9 223.4L1338.2 226.9L1338.5 230.8L1338.7 235.2L1339.0 240.1L1339.3 245.3L1339.5 250.9L1339.8 256.8L1340.0 263.1L1340.3 269.5L1340.6 276.2L1340.8 283.1L1341.1 290.1L1341.4 297.1L1341.6 304.2L1341.9 311.4L1342.2 318.4L1342.4 325.4L1342.7 332.3L1342.9 339.0L1343.2 345.4L1343.5 351.7L1343.7 357.6L1344.0 363.2L1344.3 368.4L1344.5 373.3L1344.8 377.7L1345.1 381.6L1345.3 385.1L1345.6 388.1L1345.8 390.6L1346.1 392.5L1346.4 393.9L1346.6 394.7L1346.9 395.0L1347.2 394.7L1347.4 393.9L1347.7 392.5L1348.0 390.6L1348.2 388.1L1348.5 385.1L1348.7 381.6L1349.0 377.7L1349.3 373.3L1349.5 368.4L1349.8 363.2L1350.1 357.6L1350.3 351.7L1350.6 345.4L1350.9 339.0L1351.1 332.3L1351.4 325.4L1351.6 318.4L1351.9 311.4L1352.2 304.3L1352.4 297.1L1352.7 290.1L1353.0 283.1L1353.2 276.2L1353.5 269.5L1353.8 263.1L1354.0 256.8L1354.3 250.9L1354.5 245.3L1354.8 240.1L1355.1 235.2L1355.3 230.8L1355.6 226.9L1355.9 223.4L1356.1 220.4L1356.4 217.9L1356.7 216.0L1356.9 214.6L1357.2 213.8L1357.5 213.5L1357.7 213.8L1358.0 214.6L1358.2 216.0L1358.5 217.9L1358.8 220.4L1359.0 223.4L1359.3 226.9L1359.6 230.8L1359.8 235.2L1360.1 240.1L1360.4 245.3L1360.6 250.9L1360.9 256.8L1361.1 263.1L1361.4 269.5L1361.7 276.2L1361.9 283.1L1362.2 290.1L1362.5 297.1L1362.7 304.2L1363.0 311.4L1363.3 318.4L1363.5 325.4L1363.8 332.3L1364.0 339.0L1364.3 345.4L1364.6 351.7L1364.8 357.6L1365.1 363.2L1365.4 368.4L1365.6 373.3L1365.9 377.7L1366.2 381.6L1366.4 385.1L1366.7 388.1L1366.9 390.6L1367.2 392.5L1367.5 393.9L1367.7 394.7L1368.0 395.0L1579.0 395.0" stroke="#ff0000" stroke-linejoin="round"/>
<path d="M946.0 395.0L1157.5 395.0L1157.8 394.7L1158.0 393.9L1158.3 392.5L1158.6 390.6L1158.8 388.1L1159.1 385.1L1159.4 381.6L1159.6 377.7L1159.9 373.3L1160.1 368.4L1160.4 363.2L1160.7 357.6L1160.9 351.7L1161.2 345.4L1161.5 339.0L1161.7 332.3L1162.0 325.4L1162.3 318.4L1162.5 311.4L1162.8 304.2L1163.0 297.1L1163.3 290.1L1163.6 283.1L1163.8 276.2L1164.1 269.5L1164.4 263.1L1164.6 256.8L1164.9 250.9L1165.2 245.3L1165.4 240.1L1165.7 235.2L1165.9 230.8L1166.2 226.9L1166.5 223.4L1166.7 220.4L1167.0 217.9L1167.3 216.0L1167.5 214.6L1167.8 213.8L1168.1 213.5L1168.3 213.8L1168.6 214.6L1168.8 216.0L1169.1 217.9L1169.4 220.4L1169.6 223.4L1169.9 226.9L1170.2 230.8L1170.4 235.2L1170.7 240.1L1171.0 245.3L1171.2 250.9L1171.5 256.8L1171.7 263.1L1172.0 269.5L1172.3 276.2L1172.5 283.1L1172.8 290.1L1173.1 297.1L1173.3 304.2L1173.6 311.4L1173.9 318.4L1174.1 325.4L1174.4 332.3L1174.7 339.0L1174.9 345.4L1175.2 351.7L1175.4 357.6L1175.7 363.2L1176.0 368.4L1176.2 373.3L1176.5 377.7L1176.8 381.6L1177.0 385.1L1177.3 388.1L1177.6 390.6L1177.8 392.5L1178.1 393.9L1178.3 394.7L1178.6 395.0L1178.9 394.7L1179.1 393.9L1179.4 392.5L1179.7 390.6L1179.9 388.1L1180.2 385.1L1180.5 381.6L1180.7 377.7L1181.0 373.3L1181.2 368.4L1181.5 363.2L1181.8 357.6L1182.0 351.7L1182.3 345.4L1182.6 339.0L1182.8 332.3L1183.1 325.4L1183.4 318.4L1183.6 311.4L1183.9 304.2L1184.1 297.1L1184.4 290.1L1184.7 283.1L1184.9 276.2L1185.2 269.5L1185.5 263.1L1185.7 256.8L1186.0 250.9L1186.3 245.3L1186.5 240.1L1186.8 235.2L1187.0 230.8L1187.3 226.9L1187.6 223.4L1187.8 220.4L1188.1 217.9L1188.4 216.0L1188.6 214.6L1188.9 213.8L1189.2 213.5L1189.4 213.8L1189.7 214.6L1189.9 216.0L1190.2 217.9L1190.5 220.4L1190.7 223.4L1191.0 226.9L1191.3 230.8L1191.5 235.2L1191.8 240.1L1192.1 245.3L1192.3 250.9L1192.6 256.8L1192.8 263.1L1193.1 269.5L1193.4 276.2L1193.6 283.1L1193.9 290.1L1194.2 297.1L1194.4 304.2L1194.7 311.4L1195.0 318.4L1195.2 325.4L1195.5 332.3L1195.8 339.0L1196.0 345.4L1196.3 351.7L1196.5 357.6L1196.8 363.2L1197.1 368.4L1197.3 373.3L1197.6 377.7L1197.9 381.6L1198.1 385.1L1198.4 388.1L1198.7 390.6L1198.9 392.5L1199.2 393.9L1199.4 394.7L1199.7 395.0L1200.0 394.7L1200.2 393.9L1200.5 392.5L1200.8 390.6L1201.0 388.1L1201.3 385.1L1201.6 381.6L1201.8 377.7L1202.1 373.3L1202.3 368.4L1202.6 363.2L1202.9 357.6L1203.1 351.7L1203.4 345.4L1203.7 339.0L1203.9 332.3L1204.2 325.4L1204.5 318.4L1204.7 311.4L1205.0 304.2L1205.2 297.1L1205.5 290.1L1205.8 283.1L1206.0 276.2L1206.3 269.5L1206.6 263.1L1206.8 256.8L1207.1 250.9L1207.4 245.3L1207.6 240.1L1207.9 235.2L1208.1 230.8L1208.4 226.9L1208.7 223.4L1208.9 220.4L1209.2 217.9L1209.5 216.0L1209.7 214.6L1210.0 213.8L1210.3 213.5L1210.5 213.8L1210.8 214.6L1211.0 216.0L1211.3 217.9L1211.6 220.4L1211.8 223.4L1212.1 226.9L1212.4 230.8L1212.6 235.2L1212.9 240.1L1213.2 245.3L1213.4 250.9L1213.7 256.8L1213.9 263.1L1214.2 269.5L1214.5 276.2L1214.7 283.1L1215.0 290.1L1215.3 297.1L1215.5 304.3L1215.8 311.4L1216.1 318.4L1216.3 325.4L1216.6 332.3L1216.9 339.0L1217.1 345.4L1217.4 351.7L1217.6 357.6L1217.9 363.2L1218.2 368.4L1218.4 373.3L1218.7 377.7L1219.0 381.6L1219.2 385.1L1219.5 388.1L1219.8 390.6L1220.0 392.5L1220.3 393.9L1220.5 394.7L1220.8 395.0L1221.1 394.7L1221.3 393.9L1221.6 392.5L1221.9 390.6L1222.1 388.1L1222.4 385.1L1222.7 381.6L1222.9 377.7L1223.2 373.3L1223.4 368.4L1223.7 363.2L1224.0 357.6L1224.2 351.7L1224.5 345.4L1224.8 339.0L1225.0 332.3L1225.3 325.4L1225.6 318.4L1225.8 311.4L1226.1 304.3L1226.3 297.1L1226.6 290.1L1226.9 283.1L1227.1 276.2L1227.4 269.5L1227.7 263.1L1227.9 256.8L1228.2 250.9L1228.5 245.3L1228.7 240.1L1229.0 235.2L1229.2 230.8L1229.5 226.9L1229.8 223.4L1230.0 220.4L1230.3 217.9L1230.6 216.0L1230.8 214.6L1231.1 213.8L1231.4 213.5L1231.6 213.8L1231.9 214.6L1232.1 216.0L1232.4 217.9L1232.7 220.4L1232.9 223.4L1233.2 226.9L1233.5 230.8L1233.7 235.2L1234.0 240.1L1234.3 245.3L1234.5 250.9L1234.8 256.8L1235.0 263.1L1235.3 269.5L1235.6 276.2L1235.8 283.1L1236.1 290.1L1236.4 297.1L1236.6 304.2L1236.9 311.4L1237.2 318.4L1237.4 325.4L1237.7 332.3L1238.0 339.0L1238.2 345.4L1238.5 351.7L1238.7 357.6L1239.0 363.2L1239.3 368.4L1239.5 373.3L1239.8 377.7L1240.1 381.6L1240.3 385.1L1240.6 388.1L1240.9 390.6L1241.1 392.5L1241.4 393.9L1241.6 394.7L1241.9 395.0L1242.2 394.7L1242.4 393.9L1242.7 392.5L1243.0 390.6L1243.2 388.1L1243.5 385.1L1243.8 381.6L1244.0 377.7L1244.3 373.3L1244.5 368.4L1244.8 363.2L1245.1 357.6L1245.3 351.7L1245.6 345.4L1245.9 339.0L1246.1 332.3L1246.4 325.4L1246.7 318.4L1246.9 311.4L1247.2 304.2L1247.4 297.1L1247.7 290.1L1248.0 283.1L1248.2 276.2L1248.5 269.5L1248.8 263.1L1249.0 256.8L1249.3 250.9L1249.6 245.3L1249.8 240.1L1250.1 235.2L1250.3 230.8L1250.6 226.9L1250.9 223.4L1251.1 220.4L1251.4 217.9L1251.7 216.0L1251.9 214.6L1252.2 213.8L1252.5 213.5L1252.7 213.8L1253.0 214.6L1253.2 216.0L1253.5 217.9L1253.8 220.4L1254.0 223.4L1254.3 226.9L1254.6 230.8L1254.8 235.2L1255.1 240.1L1255.4 245.3L1255.6 250.9L1255.9 256.8L1256.1 263.1L1256.4 269.5L1256.7 276.2L1256.9 283.1L1257.2 290.1L1257.5 297.1L1257.7 304.2L1258.0 311.4L1258.3 318.4L1258.5 325.4L1258.8 332.3L1259.1 339.0L1259.3 345.4L1259.6 351.7L1259.8 357.6L1260.1 363.2L1260.4 368.4L1260.6 373.3L1260.9 377.7L1261.2 381.6L1261.4 385.1L1261.7 388.1L1262.0 390.6L1262.2 392.5L1262.5 393.9L1262.7 394.7L1263.0 395.0L1263.3 394.7L1263.5 393.9L1263.8 392.5L1264.1 390.6L1264.3 388.1L1264.6 385.1L1264.9 381.6L1265.1 377.7L1265.4 373.3L1265.6 368.4L1265.9 363.2L1266.2 357.6L1266.4 351.7L1266.7 345.4L1267.0 339.0L1267.2 332.3L1267.5 325.4L1267.8 318.4L1268.0 311.4L1268.3 304.2L1268.5 297.1L1268.8 290.1L1269.1 283.1L1269.3 276.2L1269.6 269.5L1269.9 263.1L1270.1 256.8L1270.4 250.9L1270.7 245.3L1270.9 240.1L1271.2 235.2L1271.4 230.8L1271.7 226.9L1272.0 223.4L1272.2 220.4L1272.5 217.9L1272.8 216.0L1273.0 214.6L1273.3 213.8L1273.6 213.5L1273.8 213.8L1274.1 214.6L1274.3 216.0L1274.6 217.9L1274.9 220.4L1275.1 223.4L1275.4 226.9L1275.7 230.8L1275.9 235.2L1276.2 240.1L1276.5 245.3L1276.7 250.9L1277.0 256.8L1277.2 263.1L1277.5 269.5L1277.8 276.2L1278.0 283.1L1278.3 290.1L1278.6 297.1L1278.8 304.3L1279.1 311.4L1279.4 318.4L1279.6 325.4L1279.9 332.3L1280.2 339.0L1280.4 345.4L1280.7 351.7L1280.9 357.6L1281.2 363.2L1281.5 368.4L1281.7 373.3L1282.0 377.7L1282.3 381.6L1282.5 385.1L1282.8 388.1L1283.1 390.6L1283.3 392.5L1283.6 393.9L1283.8 394.7L1284.1 395.0L1284.4 394.7L1284.6 393.9L1284.9 392.5L1285.2 390.6L1285.4 388.1L1285.7 385.1L1286.0 381.6L1286.2 377.7L1286.5 373.3L1286.7 368.4L1287.0 363.2L1287.3 357.6L1287.5 351.7L1287.8 345.4L1288.1 339.0L1288.3 332.3L1288.6 325.4L1288.9 318.4L1289.1 311.4L1289.4 304.3L1289.6 297.1L1289.9 290.1L1290.2 283.1L1290.4 276.2L1290.7 269.5L1291.0 263.1L1291.2 256.8L1291.5 250.9L1291.8 245.3L1292.0 240.1L1292.3 235.2L1292.5 230.8L1292.8 226.9L1293.1 223.4L1293.3 220.4L1293.6 217.9L1293.9 216.0L1294.1 214.6L1294.4 213.8L1294.7 213.5L1294.9 213.8L1295.2 214.6L1295.4 216.0L1295.7 217.9L1296.0 220.4L1296.2 223.4L1296.5 226.9L1296.8 230.8L1297.0 235.2L1297.3 240.1L1297.6 245.3L1297.8 250.9L1298.1 256.8L1298.3 263.1L1298.6 269.5L1298.9 276.2L1299.1 283.1L1299.4 290.1L1299.7 297.1L1299.9 304.2L1300.2 311.4L1300.5 318.4L1300.7 325.4L1301.0 332.3L1301.3 339.0L1301.5 345.4L1301.8 351.7L1302.0 357.6L1302.3 363.2L1302.6 368.4L1302.8 373.3L1303.1 377.7L1303.4 381.6L1303.6 385.1L1303.9 388.1L1304.2 390.6L1304.4 392.5L1304.7 393.9L1304.9 394.7L1305.2 395.0L1305.5 394.7L1305.7 393.9L1306.0 392.5L1306.3 390.6L1306.5 388.1L1306.8 385.1L1307.1 381.6L1307.3 377.7L1307.6 373.3L1307.8 368.4L1308.1 363.2L1308.4 357.6L1308.6 351.7L1308.9 345.4L1309.2 339.0L1309.4 332.3L1309.7 325.4L1310.0 318.4L1310.2 311.4L1310.5 304.2L1310.7 297.1L1311.0 290.1L1311.3 283.1L1311.5 276.2L1311.8 269.5L1312.1 263.1L1312.3 256.8L1312.6 250.9L1312.9 245.3L1313.1 240.1L1313.4 235.2L1313.6 230.8L1313.9 226.9L1314.2 223.4L1314.4 220.4L1314.7 217.9L1315.0 216.0L1315.2 214.6L1315.5 213.8L1315.8 213.5L1316.0 213.8L1316.3 214.6L1316.5 216.0L1316.8 217.9L1317.1 220.4L1317.3 223.4L1317.6 226.9L1317.9 230.8L1318.1 235.2L1318.4 240.1L1318.7 245.3L1318.9 250.9L1319.2 256.8L1319.4 263.1L1319.7 269.5L1320.0 276.2L1320.2 283.1L1320.5 290.1L1320.8 297.1L1321.0 304.2L1321.3 311.4L1321.6 318.4L1321.8 325.4L1322.1 332.3L1322.4 339.0L1322.6 345.4L1322.9 351.7L1323.1 357.6L1323.4 363.2L1323.7 368.4L1323.9 373.3L1324.2 377.7L1324.5 381.6L1324.7 385.1L1325.0 388.1L1325.3 390.6L1325.5 392.5L1325.8 393.9L1326.0 394.7L1326.3 395.0L1326.6 394.7L1326.8 393.9L1327.1 392.5L1327.4 390.6L1327.6 388.1L1327.9 385.1L1328.2 381.6L1328.4 377.7L1328.7 373.3L1328.9 368.4L1329.2 363.2L1329.5 357.6L1329.7 351.7L1330.0 345.4L1330.3 339.0L1330.5 332.3L1330.8 325.4L1331.1 318.4L1331.3 311.4L1331.6 304.3L1331.8 297.1L1332.1 290.1L1332.4 283.1L1332.6 276.2L1332.9 269.5L1333.2 263.1L1333.4 256.8L1333.7 250.9L1334.0 245.3L1334.2 240.1L1334.5 235.2L1334.7 230.8L1335.0 226.9L1335.3 223.4L1335.5 220.4L1335.8 217.9L1336.1 216.0L1336.3 214.6L1336.6 213.8L1336.9 213.5L1337.1 213.8L1337.4 214.6L1337.6 216.0L1337.9 217.9L1338.2 220.4L1338.4 223.4L1338.7 226.9L1339.0 230.8L1339.2 235.2L1339.5 240.1L1339.8 245.3L1340.0 250.9L1340.3 256.8L1340.5 263.1L1340.8 269.5L1341.1 276.2L1341.3 283.1L1341.6 290.1L1341.9 297.1L1342.1 304.2L1342.4 311.4L1342.7 318.4L1342.9 325.4L1343.2 332.3L1343.5 339.0L1343.7 345.4L1344.0 351.7L1344.2 357.6L1344.5 363.2L1344.8 368.4L1345.0 373.3L1345.3 377.7L1345.6 381.6L1345.8 385.1L1346.1 388.1L1346.4 390.6L1346.6 392.5L1346.9 393.9L1347.1 394.7L1347.4 395.0L1347.7 394.7L1347.9 393.9L1348.2 392.5L1348.5 390.6L1348.7 388.1L1349.0 385.1L1349.3 381.6L1349.5 377.7L1349.8 373.3L1350.0 368.4L1350.3 363.2L1350.6 357.6L1350.8 351.7L1351.1 345.4L1351.4 339.0L1351.6 332.3L1351.9 325.4L1352.2 318.4L1352.4 311.4L1352.7 304.3L1352.9 297.1L1353.2 290.1L1353.5 283.1L1353.7 276.2L1354.0 269.5L1354.3 263.1L1354.5 256.8L1354.8 250.9L1355.1 245.3L1355.3 240.1L1355.6 235.2L1355.8 230.8L1356.1 226.9L1356.4 223.4L1356.6 220.4L1356.9 217.9L1357.2 216.0L1357.4 214.6L1357.7 213.8L1358.0 213.5L1358.2 213.8L1358.5 214.6L1358.7 216.0L1359.0 217.9L1359.3 220.4L1359.5 223.4L1359.8 226.9L1360.1 230.8L1360.3 235.2L1360.6 240.1L1360.9 245.3L1361.1 250.9L1361.4 256.8L1361.6 263.1L1361.9 269.5L1362.2 276.2L1362.4 283.1L1362.7 290.1L1363.0 297.1L1363.2 304.2L1363.5 311.4L1363.8 318.4L1364.0 325.4L1364.3 332.3L1364.6 339.0L1364.8 345.4L1365.1 351.7L1365.3 357.6L1365.6 363.2L1365.9 368.4L1366.1 373.3L1366.4 377.7L1366.7 381.6L1366.9 385.1L1367.2 388.1L1367.5 390.6L1367.7 392.5L1368.0 393.9L1368.2 394.7L1368.5 395.0" stroke="#00ff00" stroke-dasharray="19.1 18.8" stroke-linejoin="round"/>
<path d="M1368.5 395.0L1579.0 395.0" stroke="#00ff00" stroke-dasharray="19.1 18.8" stroke-dashoffset="18.41"/>
</g>
<text class="t" transform="translate(945.1 434.6) rotate(0.03) scale(1 1)" text-anchor="middle">0</text>
<text class="t" transform="translate(1156.1 434.6) rotate(0.03) scale(1 1)" text-anchor="middle">50</text>
<text class="t" transform="translate(1367.1 434.6) rotate(0.03) scale(1 1)" text-anchor="middle">100</text>
<text class="t" transform="translate(1578.1 434.6) rotate(0.03) scale(1 1)" text-anchor="middle">150</text>
<text class="t" transform="translate(935.6 407.1) rotate(0.03) scale(1 1)" text-anchor="end">0</text>
<text class="t" transform="translate(935.6 324.6) rotate(0.03) scale(1 1)" text-anchor="end">0.5</text>
<text class="t" transform="translate(935.6 242.1) rotate(0.03) scale(1 1)" text-anchor="end">1</text>
<text class="t" transform="translate(935.6 159.6) rotate(0.03) scale(1 1)" text-anchor="end">1.5</text>
<text class="t" transform="translate(935.6 77.1) rotate(0.03) scale(1 1)" text-anchor="end">2</text>
</g>
<g>
<path d="M322 523V850M533 523V850M111 784.6H744M111 719.2H744M111 653.8H744M111 588.4H744" stroke="#dfdfdf" stroke-width="2" fill="none"/>
<path d="M111 523H744V850H111ZM322 850v-6.5M322 523v6.5M533 850v-6.5M533 523v6.5M111 784.6h6.5M744 784.6h-6.5M111 719.2h6.5M744 719.2h-6.5M111 653.8h6.5M744 653.8h-6.5M111 588.4h6.5M744 588.4h-6.5" stroke="#262626" stroke-width="2" fill="none" stroke-linejoin="miter"/>
<g clip-path="url(#c2)" fill="none" stroke-width="6.4">
<path d="M111.0 850.0L322.0 850.0L322.3 849.6L322.5 848.6L322.8 846.8L323.1 844.4L323.3 841.3L323.6 837.5L323.8 833.1L324.1 828.1L324.4 822.6L324.6 816.5L324.9 809.9L325.2 802.8L325.4 795.3L325.7 787.5L326.0 779.3L326.2 770.9L326.5 762.3L326.7 753.5L327.0 744.5L327.3 735.6L327.5 726.6L327.8 717.6L328.1 708.8L328.3 700.2L328.6 691.8L328.9 683.6L329.1 675.8L329.4 668.3L329.6 661.2L329.9 654.6L330.2 648.5L330.4 643.0L330.7 638.0L331.0 633.6L331.2 629.8L331.5 626.7L331.8 624.3L332.0 622.5L332.3 621.5L332.6 621.1L332.8 621.5L333.1 622.5L333.3 624.3L333.6 626.7L333.9 629.8L334.1 633.6L334.4 638.0L334.7 643.0L334.9 648.5L335.2 654.6L335.5 661.2L335.7 668.3L336.0 675.8L336.2 683.6L336.5 691.8L336.8 700.2L337.0 708.8L337.3 717.6L337.6 726.6L337.8 735.5L338.1 744.5L338.4 753.5L338.6 762.3L338.9 770.9L339.1 779.3L339.4 787.5L339.7 795.3L339.9 802.8L340.2 809.9L340.5 816.5L340.7 822.6L341.0 828.1L341.3 833.1L341.5 837.5L341.8 841.3L342.0 844.4L342.3 846.8L342.6 848.6L342.8 849.6L343.1 850.0L343.4 849.6L343.6 848.6L343.9 846.8L344.2 844.4L344.4 841.3L344.7 837.5L344.9 833.1L345.2 828.1L345.5 822.6L345.7 816.5L346.0 809.9L346.3 802.8L346.5 795.3L346.8 787.5L347.1 779.3L347.3 770.9L347.6 762.3L347.8 753.5L348.1 744.5L348.4 735.6L348.6 726.6L348.9 717.6L349.2 708.8L349.4 700.2L349.7 691.8L350.0 683.6L350.2 675.8L350.5 668.3L350.7 661.2L351.0 654.6L351.3 648.5L351.5 643.0L351.8 638.0L352.1 633.6L352.3 629.8L352.6 626.7L352.9 624.3L353.1 622.5L353.4 621.5L353.6 621.1L353.9 621.5L354.2 622.5L354.4 624.3L354.7 626.7L355.0 629.8L355.2 633.6L355.5 638.0L355.8 643.0L356.0 648.5L356.3 654.6L356.6 661.2L356.8 668.3L357.1 675.8L357.3 683.6L357.6 691.8L357.9 700.2L358.1 708.8L358.4 717.6L358.7 726.6L358.9 735.5L359.2 744.5L359.5 753.5L359.7 762.3L360.0 770.9L360.2 779.3L360.5 787.5L360.8 795.3L361.0 802.8L361.3 809.9L361.6 816.5L361.8 822.6L362.1 828.1L362.4 833.1L362.6 837.5L362.9 841.3L363.1 844.4L363.4 846.8L363.7 848.6L363.9 849.6L364.2 850.0L364.5 849.6L364.7 848.6L365.0 846.8L365.3 844.4L365.5 841.3L365.8 837.5L366.0 833.1L366.3 828.1L366.6 822.6L366.8 816.5L367.1 809.9L367.4 802.8L367.6 795.3L367.9 787.5L368.2 779.3L368.4 770.9L368.7 762.3L368.9 753.5L369.2 744.5L369.5 735.6L369.7 726.6L370.0 717.6L370.3 708.8L370.5 700.2L370.8 691.8L371.1 683.6L371.3 675.8L371.6 668.3L371.8 661.2L372.1 654.6L372.4 648.5L372.6 643.0L372.9 638.0L373.2 633.6L373.4 629.8L373.7 626.7L374.0 624.3L374.2 622.5L374.5 621.5L374.8 621.1L375.0 621.5L375.3 622.5L375.5 624.3L375.8 626.7L376.1 629.8L376.3 633.6L376.6 638.0L376.9 643.0L377.1 648.5L377.4 654.6L377.7 661.2L377.9 668.3L378.2 675.8L378.4 683.6L378.7 691.8L379.0 700.2L379.2 708.8L379.5 717.6L379.8 726.6L380.0 735.6L380.3 744.5L380.6 753.5L380.8 762.3L381.1 770.9L381.3 779.3L381.6 787.5L381.9 795.3L382.1 802.8L382.4 809.9L382.7 816.5L382.9 822.6L383.2 828.1L383.5 833.1L383.7 837.5L384.0 841.3L384.2 844.4L384.5 846.8L384.8 848.6L385.0 849.6L385.3 850.0L385.6 849.6L385.8 848.6L386.1 846.8L386.4 844.4L386.6 841.3L386.9 837.5L387.1 833.1L387.4 828.1L387.7 822.6L387.9 816.5L388.2 809.9L388.5 802.8L388.7 795.3L389.0 787.5L389.3 779.3L389.5 770.9L389.8 762.3L390.0 753.5L390.3 744.5L390.6 735.6L390.8 726.6L391.1 717.6L391.4 708.8L391.6 700.2L391.9 691.8L392.2 683.6L392.4 675.8L392.7 668.3L392.9 661.2L393.2 654.6L393.5 648.5L393.7 643.0L394.0 638.0L394.3 633.6L394.5 629.8L394.8 626.7L395.1 624.3L395.3 622.5L395.6 621.5L395.9 621.1L396.1 621.5L396.4 622.5L396.6 624.3L396.9 626.7L397.2 629.8L397.4 633.6L397.7 638.0L398.0 643.0L398.2 648.5L398.5 654.6L398.8 661.2L399.0 668.3L399.3 675.8L399.5 683.6L399.8 691.8L400.1 700.2L400.3 708.8L400.6 717.6L400.9 726.6L401.1 735.5L401.4 744.5L401.7 753.5L401.9 762.3L402.2 770.9L402.4 779.3L402.7 787.5L403.0 795.3L403.2 802.8L403.5 809.9L403.8 816.5L404.0 822.6L404.3 828.1L404.6 833.1L404.8 837.5L405.1 841.3L405.3 844.4L405.6 846.8L405.9 848.6L406.1 849.6L406.4 850.0L406.7 849.6L406.9 848.6L407.2 846.8L407.5 844.4L407.7 841.3L408.0 837.5L408.2 833.1L408.5 828.1L408.8 822.6L409.0 816.5L409.3 809.9L409.6 802.8L409.8 795.3L410.1 787.5L410.4 779.3L410.6 770.9L410.9 762.3L411.1 753.5L411.4 744.5L411.7 735.5L411.9 726.6L412.2 717.6L412.5 708.8L412.7 700.2L413.0 691.8L413.3 683.6L413.5 675.8L413.8 668.3L414.0 661.2L414.3 654.6L414.6 648.5L414.8 643.0L415.1 638.0L415.4 633.6L415.6 629.8L415.9 626.7L416.2 624.3L416.4 622.5L416.7 621.5L416.9 621.1L417.2 621.5L417.5 622.5L417.7 624.3L418.0 626.7L418.3 629.8L418.5 633.6L418.8 638.0L419.1 643.0L419.3 648.5L419.6 654.6L419.9 661.2L420.1 668.3L420.4 675.8L420.6 683.6L420.9 691.8L421.2 700.2L421.4 708.8L421.7 717.6L422.0 726.6L422.2 735.6L422.5 744.5L422.8 753.5L423.0 762.3L423.3 770.9L423.5 779.3L423.8 787.5L424.1 795.3L424.3 802.8L424.6 809.9L424.9 816.5L425.1 822.6L425.4 828.1L425.7 833.1L425.9 837.5L426.2 841.3L426.4 844.4L426.7 846.8L427.0 848.6L427.2 849.6L427.5 850.0L427.8 849.6L428.0 848.6L428.3 846.8L428.6 844.4L428.8 841.3L429.1 837.5L429.3 833.1L429.6 828.1L429.9 822.6L430.1 816.5L430.4 809.9L430.7 802.8L430.9 795.3L431.2 787.5L431.5 779.3L431.7 770.9L432.0 762.3L432.2 753.5L432.5 744.5L432.8 735.5L433.0 726.6L433.3 717.6L433.6 708.8L433.8 700.2L434.1 691.8L434.4 683.6L434.6 675.8L434.9 668.3L435.1 661.2L435.4 654.6L435.7 648.5L435.9 643.0L436.2 638.0L436.5 633.6L436.7 629.8L437.0 626.7L437.3 624.3L437.5 622.5L437.8 621.5L438.1 621.1L438.3 621.5L438.6 622.5L438.8 624.3L439.1 626.7L439.4 629.8L439.6 633.6L439.9 638.0L440.2 643.0L440.4 648.5L440.7 654.6L441.0 661.2L441.2 668.3L441.5 675.8L441.7 683.6L442.0 691.8L442.3 700.2L442.5 708.8L442.8 717.6L443.1 726.6L443.3 735.6L443.6 744.5L443.9 753.5L444.1 762.3L444.4 770.9L444.6 779.3L444.9 787.5L445.2 795.3L445.4 802.8L445.7 809.9L446.0 816.5L446.2 822.6L446.5 828.1L446.8 833.1L447.0 837.5L447.3 841.3L447.5 844.4L447.8 846.8L448.1 848.6L448.3 849.6L448.6 850.0L448.9 849.6L449.1 848.6L449.4 846.8L449.7 844.4L449.9 841.3L450.2 837.5L450.4 833.1L450.7 828.1L451.0 822.6L451.2 816.5L451.5 809.9L451.8 802.8L452.0 795.3L452.3 787.5L452.6 779.3L452.8 770.9L453.1 762.3L453.3 753.5L453.6 744.5L453.9 735.6L454.1 726.6L454.4 717.6L454.7 708.8L454.9 700.2L455.2 691.8L455.5 683.6L455.7 675.8L456.0 668.3L456.2 661.2L456.5 654.6L456.8 648.5L457.0 643.0L457.3 638.0L457.6 633.6L457.8 629.8L458.1 626.7L458.4 624.3L458.6 622.5L458.9 621.5L459.1 621.1L459.4 621.5L459.7 622.5L459.9 624.3L460.2 626.7L460.5 629.8L460.7 633.6L461.0 638.0L461.3 643.0L461.5 648.5L461.8 654.6L462.1 661.2L462.3 668.3L462.6 675.8L462.8 683.6L463.1 691.8L463.4 700.2L463.6 708.8L463.9 717.6L464.2 726.6L464.4 735.5L464.7 744.5L465.0 753.5L465.2 762.3L465.5 770.9L465.7 779.3L466.0 787.5L466.3 795.3L466.5 802.8L466.8 809.9L467.1 816.5L467.3 822.6L467.6 828.1L467.9 833.1L468.1 837.5L468.4 841.3L468.6 844.4L468.9 846.8L469.2 848.6L469.4 849.6L469.7 850.0L470.0 849.6L470.2 848.6L470.5 846.8L470.8 844.4L471.0 841.3L471.3 837.5L471.5 833.1L471.8 828.1L472.1 822.6L472.3 816.5L472.6 809.9L472.9 802.8L473.1 795.3L473.4 787.5L473.7 779.3L473.9 770.9L474.2 762.3L474.4 753.5L474.7 744.5L475.0 735.5L475.2 726.6L475.5 717.6L475.8 708.8L476.0 700.2L476.3 691.8L476.6 683.6L476.8 675.8L477.1 668.3L477.3 661.2L477.6 654.6L477.9 648.5L478.1 643.0L478.4 638.0L478.7 633.6L478.9 629.8L479.2 626.7L479.5 624.3L479.7 622.5L480.0 621.5L480.2 621.1L480.5 621.5L480.8 622.5L481.0 624.3L481.3 626.7L481.6 629.8L481.8 633.6L482.1 638.0L482.4 643.0L482.6 648.5L482.9 654.6L483.2 661.2L483.4 668.3L483.7 675.8L483.9 683.6L484.2 691.8L484.5 700.2L484.7 708.8L485.0 717.6L485.3 726.6L485.5 735.5L485.8 744.5L486.1 753.5L486.3 762.3L486.6 770.9L486.8 779.3L487.1 787.5L487.4 795.3L487.6 802.8L487.9 809.9L488.2 816.5L488.4 822.6L488.7 828.1L489.0 833.1L489.2 837.5L489.5 841.3L489.7 844.4L490.0 846.8L490.3 848.6L490.5 849.6L490.8 850.0L491.1 849.6L491.3 848.6L491.6 846.8L491.9 844.4L492.1 841.3L492.4 837.5L492.6 833.1L492.9 828.1L493.2 822.6L493.4 816.5L493.7 809.9L494.0 802.8L494.2 795.3L494.5 787.5L494.8 779.3L495.0 770.9L495.3 762.3L495.5 753.5L495.8 744.5L496.1 735.6L496.3 726.6L496.6 717.6L496.9 708.8L497.1 700.2L497.4 691.8L497.7 683.6L497.9 675.8L498.2 668.3L498.4 661.2L498.7 654.6L499.0 648.5L499.2 643.0L499.5 638.0L499.8 633.6L500.0 629.8L500.3 626.7L500.6 624.3L500.8 622.5L501.1 621.5L501.4 621.1L501.6 621.5L501.9 622.5L502.1 624.3L502.4 626.7L502.7 629.8L502.9 633.6L503.2 638.0L503.5 643.0L503.7 648.5L504.0 654.6L504.3 661.2L504.5 668.3L504.8 675.8L505.0 683.6L505.3 691.8L505.6 700.2L505.8 708.8L506.1 717.6L506.4 726.6L506.6 735.5L506.9 744.5L507.2 753.5L507.4 762.3L507.7 770.9L507.9 779.3L508.2 787.5L508.5 795.3L508.7 802.8L509.0 809.9L509.3 816.5L509.5 822.6L509.8 828.1L510.1 833.1L510.3 837.5L510.6 841.3L510.8 844.4L511.1 846.8L511.4 848.6L511.6 849.6L511.9 850.0L512.2 849.6L512.4 848.6L512.7 846.8L513.0 844.4L513.2 841.3L513.5 837.5L513.7 833.1L514.0 828.1L514.3 822.6L514.5 816.5L514.8 809.9L515.1 802.8L515.3 795.3L515.6 787.5L515.9 779.3L516.1 770.9L516.4 762.3L516.6 753.5L516.9 744.5L517.2 735.6L517.4 726.6L517.7 717.6L518.0 708.8L518.2 700.2L518.5 691.8L518.8 683.6L519.0 675.8L519.3 668.3L519.5 661.2L519.8 654.6L520.1 648.5L520.3 643.0L520.6 638.0L520.9 633.6L521.1 629.8L521.4 626.7L521.7 624.3L521.9 622.5L522.2 621.5L522.5 621.1L522.7 621.5L523.0 622.5L523.2 624.3L523.5 626.7L523.8 629.8L524.0 633.6L524.3 638.0L524.6 643.0L524.8 648.5L525.1 654.6L525.4 661.2L525.6 668.3L525.9 675.8L526.1 683.6L526.4 691.8L526.7 700.2L526.9 708.8L527.2 717.6L527.5 726.6L527.7 735.5L528.0 744.5L528.3 753.5L528.5 762.3L528.8 770.9L529.0 779.3L529.3 787.5L529.6 795.3L529.8 802.8L530.1 809.9L530.4 816.5L530.6 822.6L530.9 828.1L531.2 833.1L531.4 837.5L531.7 841.3L531.9 844.4L532.2 846.8L532.5 848.6L532.7 849.6L533.0 850.0L744.0 850.0" stroke="#ff0000" stroke-linejoin="round"/>
<path d="M111.0 850.0L322.5 850.0L322.8 849.6L323.0 848.6L323.3 846.8L323.6 844.4L323.8 841.3L324.1 837.5L324.4 833.1L324.6 828.1L324.9 822.6L325.1 816.5L325.4 809.9L325.7 802.8L325.9 795.3L326.2 787.5L326.5 779.3L326.7 770.9L327.0 762.3L327.3 753.5L327.5 744.5L327.8 735.6L328.0 726.6L328.3 717.6L328.6 708.8L328.8 700.2L329.1 691.8L329.4 683.6L329.6 675.8L329.9 668.3L330.2 661.2L330.4 654.6L330.7 648.5L330.9 643.0L331.2 638.0L331.5 633.6L331.7 629.8L332.0 626.7L332.3 624.3L332.5 622.5L332.8 621.5L333.1 621.1L333.3 621.5L333.6 622.5L333.8 624.3L334.1 626.7L334.4 629.8L334.6 633.6L334.9 638.0L335.2 643.0L335.4 648.5L335.7 654.6L336.0 661.2L336.2 668.3L336.5 675.8L336.7 683.6L337.0 691.8L337.3 700.2L337.5 708.8L337.8 717.6L338.1 726.6L338.3 735.5L338.6 744.5L338.9 753.5L339.1 762.3L339.4 770.9L339.7 779.3L339.9 787.5L340.2 795.3L340.4 802.8L340.7 809.9L341.0 816.5L341.2 822.6L341.5 828.1L341.8 833.1L342.0 837.5L342.3 841.3L342.6 844.4L342.8 846.8L343.1 848.6L343.3 849.6L343.6 850.0L343.9 849.6L344.1 848.6L344.4 846.8L344.7 844.4L344.9 841.3L345.2 837.5L345.5 833.1L345.7 828.1L346.0 822.6L346.2 816.5L346.5 809.9L346.8 802.8L347.0 795.3L347.3 787.5L347.6 779.3L347.8 770.9L348.1 762.3L348.4 753.5L348.6 744.5L348.9 735.6L349.1 726.6L349.4 717.6L349.7 708.8L349.9 700.2L350.2 691.8L350.5 683.6L350.7 675.8L351.0 668.3L351.3 661.2L351.5 654.6L351.8 648.5L352.0 643.0L352.3 638.0L352.6 633.6L352.8 629.8L353.1 626.7L353.4 624.3L353.6 622.5L353.9 621.5L354.2 621.1L354.4 621.5L354.7 622.5L354.9 624.3L355.2 626.7L355.5 629.8L355.7 633.6L356.0 638.0L356.3 643.0L356.5 648.5L356.8 654.6L357.1 661.2L357.3 668.3L357.6 675.8L357.8 683.6L358.1 691.8L358.4 700.2L358.6 708.8L358.9 717.6L359.2 726.6L359.4 735.5L359.7 744.5L360.0 753.5L360.2 762.3L360.5 770.9L360.8 779.3L361.0 787.5L361.3 795.3L361.5 802.8L361.8 809.9L362.1 816.5L362.3 822.6L362.6 828.1L362.9 833.1L363.1 837.5L363.4 841.3L363.7 844.4L363.9 846.8L364.2 848.6L364.4 849.6L364.7 850.0L365.0 849.6L365.2 848.6L365.5 846.8L365.8 844.4L366.0 841.3L366.3 837.5L366.6 833.1L366.8 828.1L367.1 822.6L367.3 816.5L367.6 809.9L367.9 802.8L368.1 795.3L368.4 787.5L368.7 779.3L368.9 770.9L369.2 762.3L369.5 753.5L369.7 744.5L370.0 735.6L370.2 726.6L370.5 717.6L370.8 708.8L371.0 700.2L371.3 691.8L371.6 683.6L371.8 675.8L372.1 668.3L372.4 661.2L372.6 654.6L372.9 648.5L373.1 643.0L373.4 638.0L373.7 633.6L373.9 629.8L374.2 626.7L374.5 624.3L374.7 622.5L375.0 621.5L375.3 621.1L375.5 621.5L375.8 622.5L376.0 624.3L376.3 626.7L376.6 629.8L376.8 633.6L377.1 638.0L377.4 643.0L377.6 648.5L377.9 654.6L378.2 661.2L378.4 668.3L378.7 675.8L378.9 683.6L379.2 691.8L379.5 700.2L379.7 708.8L380.0 717.6L380.3 726.6L380.5 735.6L380.8 744.5L381.1 753.5L381.3 762.3L381.6 770.9L381.9 779.3L382.1 787.5L382.4 795.3L382.6 802.8L382.9 809.9L383.2 816.5L383.4 822.6L383.7 828.1L384.0 833.1L384.2 837.5L384.5 841.3L384.8 844.4L385.0 846.8L385.3 848.6L385.5 849.6L385.8 850.0L386.1 849.6L386.3 848.6L386.6 846.8L386.9 844.4L387.1 841.3L387.4 837.5L387.7 833.1L387.9 828.1L388.2 822.6L388.4 816.5L388.7 809.9L389.0 802.8L389.2 795.3L389.5 787.5L389.8 779.3L390.0 770.9L390.3 762.3L390.6 753.5L390.8 744.5L391.1 735.6L391.3 726.6L391.6 717.6L391.9 708.8L392.1 700.2L392.4 691.8L392.7 683.6L392.9 675.8L393.2 668.3L393.5 661.2L393.7 654.6L394.0 648.5L394.2 643.0L394.5 638.0L394.8 633.6L395.0 629.8L395.3 626.7L395.6 624.3L395.8 622.5L396.1 621.5L396.4 621.1L396.6 621.5L396.9 622.5L397.1 624.3L397.4 626.7L397.7 629.8L397.9 633.6L398.2 638.0L398.5 643.0L398.7 648.5L399.0 654.6L399.3 661.2L399.5 668.3L399.8 675.8L400.0 683.6L400.3 691.8L400.6 700.2L400.8 708.8L401.1 717.6L401.4 726.6L401.6 735.5L401.9 744.5L402.2 753.5L402.4 762.3L402.7 770.9L403.0 779.3L403.2 787.5L403.5 795.3L403.7 802.8L404.0 809.9L404.3 816.5L404.5 822.6L404.8 828.1L405.1 833.1L405.3 837.5L405.6 841.3L405.9 844.4L406.1 846.8L406.4 848.6L406.6 849.6L406.9 850.0L407.2 849.6L407.4 848.6L407.7 846.8L408.0 844.4L408.2 841.3L408.5 837.5L408.8 833.1L409.0 828.1L409.3 822.6L409.5 816.5L409.8 809.9L410.1 802.8L410.3 795.3L410.6 787.5L410.9 779.3L411.1 770.9L411.4 762.3L411.7 753.5L411.9 744.5L412.2 735.5L412.4 726.6L412.7 717.6L413.0 708.8L413.2 700.2L413.5 691.8L413.8 683.6L414.0 675.8L414.3 668.3L414.6 661.2L414.8 654.6L415.1 648.5L415.3 643.0L415.6 638.0L415.9 633.6L416.1 629.8L416.4 626.7L416.7 624.3L416.9 622.5L417.2 621.5L417.5 621.1L417.7 621.5L418.0 622.5L418.2 624.3L418.5 626.7L418.8 629.8L419.0 633.6L419.3 638.0L419.6 643.0L419.8 648.5L420.1 654.6L420.4 661.2L420.6 668.3L420.9 675.8L421.1 683.6L421.4 691.8L421.7 700.2L421.9 708.8L422.2 717.6L422.5 726.6L422.7 735.6L423.0 744.5L423.3 753.5L423.5 762.3L423.8 770.9L424.1 779.3L424.3 787.5L424.6 795.3L424.8 802.8L425.1 809.9L425.4 816.5L425.6 822.6L425.9 828.1L426.2 833.1L426.4 837.5L426.7 841.3L427.0 844.4L427.2 846.8L427.5 848.6L427.7 849.6L428.0 850.0L428.3 849.6L428.5 848.6L428.8 846.8L429.1 844.4L429.3 841.3L429.6 837.5L429.9 833.1L430.1 828.1L430.4 822.6L430.6 816.5L430.9 809.9L431.2 802.8L431.4 795.3L431.7 787.5L432.0 779.3L432.2 770.9L432.5 762.3L432.8 753.5L433.0 744.5L433.3 735.5L433.5 726.6L433.8 717.6L434.1 708.8L434.3 700.2L434.6 691.8L434.9 683.6L435.1 675.8L435.4 668.3L435.7 661.2L435.9 654.6L436.2 648.5L436.4 643.0L436.7 638.0L437.0 633.6L437.2 629.8L437.5 626.7L437.8 624.3L438.0 622.5L438.3 621.5L438.6 621.1L438.8 621.5L439.1 622.5L439.3 624.3L439.6 626.7L439.9 629.8L440.1 633.6L440.4 638.0L440.7 643.0L440.9 648.5L441.2 654.6L441.5 661.2L441.7 668.3L442.0 675.8L442.2 683.6L442.5 691.8L442.8 700.2L443.0 708.8L443.3 717.6L443.6 726.6L443.8 735.6L444.1 744.5L444.4 753.5L444.6 762.3L444.9 770.9L445.2 779.3L445.4 787.5L445.7 795.3L445.9 802.8L446.2 809.9L446.5 816.5L446.7 822.6L447.0 828.1L447.3 833.1L447.5 837.5L447.8 841.3L448.1 844.4L448.3 846.8L448.6 848.6L448.8 849.6L449.1 850.0L449.4 849.6L449.6 848.6L449.9 846.8L450.2 844.4L450.4 841.3L450.7 837.5L451.0 833.1L451.2 828.1L451.5 822.6L451.7 816.5L452.0 809.9L452.3 802.8L452.5 795.3L452.8 787.5L453.1 779.3L453.3 770.9L453.6 762.3L453.9 753.5L454.1 744.5L454.4 735.6L454.6 726.6L454.9 717.6L455.2 708.8L455.4 700.2L455.7 691.8L456.0 683.6L456.2 675.8L456.5 668.3L456.8 661.2L457.0 654.6L457.3 648.5L457.5 643.0L457.8 638.0L458.1 633.6L458.3 629.8L458.6 626.7L458.9 624.3L459.1 622.5L459.4 621.5L459.7 621.1L459.9 621.5L460.2 622.5L460.4 624.3L460.7 626.7L461.0 629.8L461.2 633.6L461.5 638.0L461.8 643.0L462.0 648.5L462.3 654.6L462.6 661.2L462.8 668.3L463.1 675.8L463.3 683.6L463.6 691.8L463.9 700.2L464.1 708.8L464.4 717.6L464.7 726.6L464.9 735.5L465.2 744.5L465.5 753.5L465.7 762.3L466.0 770.9L466.3 779.3L466.5 787.5L466.8 795.3L467.0 802.8L467.3 809.9L467.6 816.5L467.8 822.6L468.1 828.1L468.4 833.1L468.6 837.5L468.9 841.3L469.2 844.4L469.4 846.8L469.7 848.6L469.9 849.6L470.2 850.0L470.5 849.6L470.7 848.6L471.0 846.8L471.3 844.4L471.5 841.3L471.8 837.5L472.1 833.1L472.3 828.1L472.6 822.6L472.8 816.5L473.1 809.9L473.4 802.8L473.6 795.3L473.9 787.5L474.2 779.3L474.4 770.9L474.7 762.3L475.0 753.5L475.2 744.5L475.5 735.5L475.7 726.6L476.0 717.6L476.3 708.8L476.5 700.2L476.8 691.8L477.1 683.6L477.3 675.8L477.6 668.3L477.9 661.2L478.1 654.6L478.4 648.5L478.6 643.0L478.9 638.0L479.2 633.6L479.4 629.8L479.7 626.7L480.0 624.3L480.2 622.5L480.5 621.5L480.8 621.1L481.0 621.5L481.3 622.5L481.5 624.3L481.8 626.7L482.1 629.8L482.3 633.6L482.6 638.0L482.9 643.0L483.1 648.5L483.4 654.6L483.7 661.2L483.9 668.3L484.2 675.8L484.4 683.6L484.7 691.8L485.0 700.2L485.2 708.8L485.5 717.6L485.8 726.6L486.0 735.5L486.3 744.5L486.6 753.5L486.8 762.3L487.1 770.9L487.4 779.3L487.6 787.5L487.9 795.3L488.1 802.8L488.4 809.9L488.7 816.5L488.9 822.6L489.2 828.1L489.5 833.1L489.7 837.5L490.0 841.3L490.3 844.4L490.5 846.8L490.8 848.6L491.0 849.6L491.3 850.0L491.6 849.6L491.8 848.6L492.1 846.8L492.4 844.4L492.6 841.3L492.9 837.5L493.2 833.1L493.4 828.1L493.7 822.6L493.9 816.5L494.2 809.9L494.5 802.8L494.7 795.3L495.0 787.5L495.3 779.3L495.5 770.9L495.8 762.3L496.1 753.5L496.3 744.5L496.6 735.6L496.8 726.6L497.1 717.6L497.4 708.8L497.6 700.2L497.9 691.8L498.2 683.6L498.4 675.8L498.7 668.3L499.0 661.2L499.2 654.6L499.5 648.5L499.7 643.0L500.0 638.0L500.3 633.6L500.5 629.8L500.8 626.7L501.1 624.3L501.3 622.5L501.6 621.5L501.9 621.1L502.1 621.5L502.4 622.5L502.6 624.3L502.9 626.7L503.2 629.8L503.4 633.6L503.7 638.0L504.0 643.0L504.2 648.5L504.5 654.6L504.8 661.2L505.0 668.3L505.3 675.8L505.5 683.6L505.8 691.8L506.1 700.2L506.3 708.8L506.6 717.6L506.9 726.6L507.1 735.5L507.4 744.5L507.7 753.5L507.9 762.3L508.2 770.9L508.5 779.3L508.7 787.5L509.0 795.3L509.2 802.8L509.5 809.9L509.8 816.5L510.0 822.6L510.3 828.1L510.6 833.1L510.8 837.5L511.1 841.3L511.4 844.4L511.6 846.8L511.9 848.6L512.1 849.6L512.4 850.0L512.7 849.6L512.9 848.6L513.2 846.8L513.5 844.4L513.7 841.3L514.0 837.5L514.3 833.1L514.5 828.1L514.8 822.6L515.0 816.5L515.3 809.9L515.6 802.8L515.8 795.3L516.1 787.5L516.4 779.3L516.6 770.9L516.9 762.3L517.2 753.5L517.4 744.5L517.7 735.6L517.9 726.6L518.2 717.6L518.5 708.8L518.7 700.2L519.0 691.8L519.3 683.6L519.5 675.8L519.8 668.3L520.1 661.2L520.3 654.6L520.6 648.5L520.8 643.0L521.1 638.0L521.4 633.6L521.6 629.8L521.9 626.7L522.2 624.3L522.4 622.5L522.7 621.5L523.0 621.1L523.2 621.5L523.5 622.5L523.7 624.3L524.0 626.7L524.3 629.8L524.5 633.6L524.8 638.0L525.1 643.0L525.3 648.5L525.6 654.6L525.9 661.2L526.1 668.3L526.4 675.8L526.6 683.6L526.9 691.8L527.2 700.2L527.4 708.8L527.7 717.6L528.0 726.6L528.2 735.5L528.5 744.5L528.8 753.5L529.0 762.3L529.3 770.9L529.6 779.3L529.8 787.5L530.1 795.3L530.3 802.8L530.6 809.9L530.9 816.5L531.1 822.6L531.4 828.1L531.7 833.1L531.9 837.5L532.2 841.3L532.5 844.4L532.7 846.8L533.0 848.6L533.2 849.6L533.5 850.0" stroke="#00ff00" stroke-dasharray="19.1 18.8" stroke-linejoin="round"/>
<path d="M533.5 850.0L744.0 850.0" stroke="#00ff00" stroke-dasharray="19.1 18.8" stroke-dashoffset="12.91"/>
</g>
<text class="t" transform="translate(110.1 890.2) rotate(0.03) scale(1 1)" text-anchor="middle">0</text>
<text class="t" transform="translate(321.1 890.2) rotate(0.03) scale(1 1)" text-anchor="middle">50</text>
<text class="t" transform="translate(532.1 890.2) rotate(0.03) scale(1 1)" text-anchor="middle">100</text>
<text class="t" transform="translate(743.1 890.2) rotate(0.03) scale(1 1)" text-anchor="middle">150</text>
<text class="t" transform="translate(100.6 862.1) rotate(0.03) scale(1 1)" text-anchor="end">0</text>
<text class="t" transform="translate(100.6 796.7) rotate(0.03) scale(1 1)" text-anchor="end">0.2</text>
<text class="t" transform="translate(100.6 731.3) rotate(0.03) scale(1 1)" text-anchor="end">0.4</text>
<text class="t" transform="translate(100.6 665.9) rotate(0.03) scale(1 1)" text-anchor="end">0.6</text>
<text class="t" transform="translate(100.6 600.5) rotate(0.03) scale(1 1)" text-anchor="end">0.8</text>
<text class="t" transform="translate(100.6 535.1) rotate(0.03) scale(1 1)" text-anchor="end">1</text>
</g>
<g>
<path d="M1157 523V850M1368 523V850M946 686.5H1579" stroke="#dfdfdf" stroke-width="2" fill="none"/>
<path d="M946 523H1579V850H946ZM1157 850v-6.5M1157 523v6.5M1368 850v-6.5M1368 523v6.5M946 686.5h6.5M1579 686.5h-6.5" stroke="#262626" stroke-width="2" fill="none" stroke-linejoin="miter"/>
<g clip-path="url(#c3)" fill="none" stroke-width="6.4">
<path d="M946.0 686.5L1157.0 686.5L1157.0 633.1L1157.5 639.2L1158.1 645.3L1158.6 651.6L1159.1 657.9L1159.6 664.3L1160.2 670.8L1160.7 677.3L1161.2 683.8L1161.7 690.4L1162.3 696.9L1162.8 703.4L1163.3 709.9L1163.9 716.3L1164.4 722.6L1164.9 728.8L1165.4 735.0L1166.0 741.0L1166.5 746.9L1167.0 752.6L1167.5 758.1L1168.1 763.5L1168.6 768.7L1169.1 773.7L1169.7 778.5L1170.2 783.0L1170.7 787.3L1171.2 791.3L1171.8 795.1L1172.3 798.6L1172.8 801.8L1173.4 804.8L1173.9 807.4L1174.4 809.8L1174.9 811.8L1175.5 813.5L1176.0 814.9L1176.5 816.0L1177.0 816.8L1177.6 817.2L1178.1 817.3L1178.6 817.1L1179.2 816.5L1179.7 815.7L1180.2 814.5L1180.7 812.9L1181.3 811.1L1181.8 809.0L1182.3 806.5L1182.8 803.8L1183.4 800.7L1183.9 797.4L1184.4 793.8L1185.0 789.9L1185.5 785.8L1186.0 781.4L1186.5 776.8L1187.1 772.0L1187.6 766.9L1188.1 761.6L1188.7 756.2L1189.2 750.6L1189.7 744.8L1190.2 738.9L1190.8 732.8L1191.3 726.6L1191.8 720.4L1192.3 714.0L1192.9 707.6L1193.4 701.1L1193.9 694.6L1194.5 688.1L1195.0 681.5L1195.5 675.0L1196.0 668.5L1196.6 662.0L1197.1 655.7L1197.6 649.3L1198.1 643.1L1198.7 637.0L1199.2 631.0L1199.7 625.2L1200.3 619.5L1200.8 613.9L1201.3 608.6L1201.8 603.4L1202.4 598.5L1202.9 593.8L1203.4 589.3L1203.9 585.0L1204.5 581.0L1205.0 577.3L1205.5 573.8L1206.1 570.6L1206.6 567.8L1207.1 565.2L1207.6 562.9L1208.2 560.9L1208.7 559.2L1209.2 557.9L1209.8 556.9L1210.3 556.1L1210.8 555.8L1211.3 555.7L1211.9 556.0L1212.4 556.6L1212.9 557.5L1213.4 558.8L1214.0 560.3L1214.5 562.2L1215.0 564.4L1215.6 566.9L1216.1 569.7L1216.6 572.8L1217.1 576.2L1217.7 579.8L1218.2 583.8L1218.7 587.9L1219.2 592.3L1219.8 597.0L1220.3 601.9L1220.8 607.0L1221.4 612.3L1221.9 617.7L1222.4 623.4L1222.9 629.2L1223.5 635.1L1224.0 641.2L1224.5 647.4L1225.0 653.7L1225.6 660.1L1226.1 666.5L1226.6 673.0L1227.2 679.5L1227.7 686.0L1228.2 692.6L1228.7 699.1L1229.3 705.6L1229.8 712.0L1230.3 718.4L1230.8 724.7L1231.4 730.9L1231.9 737.0L1232.4 743.0L1233.0 748.8L1233.5 754.5L1234.0 760.0L1234.5 765.3L1235.1 770.4L1235.6 775.3L1236.1 780.0L1236.7 784.5L1237.2 788.7L1237.7 792.6L1238.2 796.3L1238.8 799.7L1239.3 802.9L1239.8 805.7L1240.3 808.2L1240.9 810.5L1241.4 812.4L1241.9 814.0L1242.5 815.3L1243.0 816.3L1243.5 816.9L1244.0 817.3L1244.6 817.3L1245.1 816.9L1245.6 816.3L1246.1 815.3L1246.7 814.0L1247.2 812.4L1247.7 810.4L1248.3 808.2L1248.8 805.6L1249.3 802.8L1249.8 799.6L1250.4 796.2L1250.9 792.5L1251.4 788.6L1252.0 784.3L1252.5 779.9L1253.0 775.2L1253.5 770.3L1254.1 765.2L1254.6 759.8L1255.1 754.3L1255.6 748.6L1256.2 742.8L1256.7 736.8L1257.2 730.8L1257.8 724.5L1258.3 718.2L1258.8 711.9L1259.3 705.4L1259.9 698.9L1260.4 692.4L1260.9 685.9L1261.4 679.3L1262.0 672.8L1262.5 666.3L1263.0 659.9L1263.6 653.5L1264.1 647.2L1264.6 641.1L1265.1 635.0L1265.7 629.0L1266.2 623.2L1266.7 617.6L1267.2 612.1L1267.8 606.8L1268.3 601.8L1268.8 596.9L1269.4 592.2L1269.9 587.8L1270.4 583.6L1270.9 579.7L1271.5 576.1L1272.0 572.7L1272.5 569.6L1273.0 566.9L1273.6 564.4L1274.1 562.2L1274.6 560.3L1275.2 558.7L1275.7 557.5L1276.2 556.6L1276.7 556.0L1277.3 555.7L1277.8 555.8L1278.3 556.2L1278.9 556.9L1279.4 557.9L1279.9 559.3L1280.4 560.9L1281.0 562.9L1281.5 565.2L1282.0 567.8L1282.5 570.7L1283.1 573.9L1283.6 577.4L1284.1 581.1L1284.7 585.1L1285.2 589.4L1285.7 593.9L1286.2 598.6L1286.8 603.6L1287.3 608.7L1287.8 614.1L1288.3 619.6L1288.9 625.3L1289.4 631.2L1289.9 637.2L1290.5 643.3L1291.0 649.5L1291.5 655.8L1292.0 662.2L1292.6 668.7L1293.1 675.2L1293.6 681.7L1294.2 688.2L1294.7 694.8L1295.2 701.3L1295.7 707.8L1296.3 714.2L1296.8 720.5L1297.3 726.8L1297.8 733.0L1298.4 739.0L1298.9 745.0L1299.4 750.7L1300.0 756.3L1300.5 761.8L1301.0 767.0L1301.5 772.1L1302.1 776.9L1302.6 781.5L1303.1 785.9L1303.6 790.0L1304.2 793.9L1304.7 797.5L1305.2 800.8L1305.8 803.8L1306.3 806.6L1306.8 809.0L1307.3 811.2L1307.9 813.0L1308.4 814.5L1308.9 815.7L1309.4 816.5L1310.0 817.1L1310.5 817.3L1311.0 817.2L1311.6 816.7L1312.1 816.0L1312.6 814.9L1313.1 813.5L1313.7 811.7L1314.2 809.7L1314.7 807.4L1315.2 804.7L1315.8 801.8L1316.3 798.5L1316.8 795.0L1317.4 791.2L1317.9 787.2L1318.4 782.9L1318.9 778.3L1319.5 773.6L1320.0 768.6L1320.5 763.4L1321.1 758.0L1321.6 752.4L1322.1 746.7L1322.6 740.8L1323.2 734.8L1323.7 728.7L1324.2 722.4L1324.7 716.1L1325.3 709.7L1325.8 703.2L1326.3 696.7L1326.9 690.2L1327.4 683.7L1327.9 677.1L1328.4 670.6L1329.0 664.2L1329.5 657.7L1330.0 651.4L1330.5 645.1L1331.1 639.0L1331.6 633.0L1332.1 627.1L1332.7 621.3L1333.2 615.7L1333.7 610.3L1334.2 605.1L1334.8 600.1L1335.3 595.3L1335.8 590.7L1336.3 586.4L1336.9 582.3L1337.4 578.5L1337.9 574.9L1338.5 571.7L1339.0 568.7L1339.5 566.0L1340.0 563.6L1340.6 561.5L1341.1 559.7L1341.6 558.3L1342.2 557.2L1342.7 556.3L1343.2 555.9L1343.7 555.7L1344.3 555.9L1344.8 556.4L1345.3 557.2L1345.8 558.3L1346.4 559.8L1346.9 561.6L1347.4 563.7L1348.0 566.1L1348.5 568.8L1349.0 571.8L1349.5 575.1L1350.1 578.6L1350.6 582.4L1351.1 586.5L1351.6 590.9L1352.2 595.5L1352.7 600.3L1353.2 605.3L1353.8 610.5L1354.3 615.9L1354.8 621.5L1355.3 627.3L1355.9 633.2L1356.4 639.2L1356.9 645.4L1357.5 651.6L1358.0 658.0L1358.5 664.4L1359.0 670.9L1359.6 677.4L1360.1 683.9L1360.6 690.4L1361.1 697.0L1361.7 703.5L1362.2 709.9L1362.7 716.3L1363.3 722.7L1363.8 728.9L1364.3 735.0L1364.8 741.0L1365.4 746.9L1365.9 752.6L1366.4 758.2L1366.9 763.6L1367.5 768.8L1368.0 773.7L1368.0 686.5L1579.0 686.5" stroke="#ff0000" stroke-linejoin="round"/>
<path d="M946.0 686.5L1157.6 686.5" stroke="#00ff00" stroke-dasharray="19.1 18.8"/>
<path d="M1157.6 694.5V637.6" stroke="#00ff00" stroke-width="6.8"/>
<path d="M1157.6 633.1L1158.2 639.2L1158.7 645.3L1159.2 651.6L1159.7 657.9L1160.3 664.3L1160.8 670.8L1161.3 677.3L1161.9 683.8L1162.4 690.4L1162.9 696.9L1163.4 703.4L1164.0 709.9L1164.5 716.3L1165.0 722.6L1165.5 728.8L1166.1 735.0L1166.6 741.0L1167.1 746.9L1167.7 752.6L1168.2 758.1L1168.7 763.5L1169.2 768.7L1169.8 773.7L1170.3 778.5L1170.8 783.0L1171.3 787.3L1171.9 791.3L1172.4 795.1L1172.9 798.6L1173.5 801.8L1174.0 804.8L1174.5 807.4L1175.0 809.8L1175.6 811.8L1176.1 813.5L1176.6 814.9L1177.2 816.0L1177.7 816.8L1178.2 817.2L1178.7 817.3L1179.3 817.1L1179.8 816.5L1180.3 815.7L1180.8 814.5L1181.4 812.9L1181.9 811.1L1182.4 809.0L1183.0 806.5L1183.5 803.8L1184.0 800.7L1184.5 797.4L1185.1 793.8L1185.6 789.9L1186.1 785.8L1186.6 781.4L1187.2 776.8L1187.7 772.0L1188.2 766.9L1188.8 761.6L1189.3 756.2L1189.8 750.6L1190.3 744.8L1190.9 738.9L1191.4 732.8L1191.9 726.6L1192.4 720.4L1193.0 714.0L1193.5 707.6L1194.0 701.1L1194.6 694.6L1195.1 688.1L1195.6 681.5L1196.1 675.0L1196.7 668.5L1197.2 662.0L1197.7 655.7L1198.3 649.3L1198.8 643.1L1199.3 637.0L1199.8 631.0L1200.4 625.2L1200.9 619.5L1201.4 613.9L1201.9 608.6L1202.5 603.4L1203.0 598.5L1203.5 593.8L1204.1 589.3L1204.6 585.0L1205.1 581.0L1205.6 577.3L1206.2 573.8L1206.7 570.6L1207.2 567.8L1207.7 565.2L1208.3 562.9L1208.8 560.9L1209.3 559.2L1209.9 557.9L1210.4 556.9L1210.9 556.1L1211.4 555.8L1212.0 555.7L1212.5 556.0L1213.0 556.6L1213.5 557.5L1214.1 558.8L1214.6 560.3L1215.1 562.2L1215.7 564.4L1216.2 566.9L1216.7 569.7L1217.2 572.8L1217.8 576.2L1218.3 579.8L1218.8 583.8L1219.4 587.9L1219.9 592.3L1220.4 597.0L1220.9 601.9L1221.5 607.0L1222.0 612.3L1222.5 617.7L1223.0 623.4L1223.6 629.2L1224.1 635.1L1224.6 641.2L1225.2 647.4L1225.7 653.7L1226.2 660.1L1226.7 666.5L1227.3 673.0L1227.8 679.5L1228.3 686.0L1228.8 692.6L1229.4 699.1L1229.9 705.6L1230.4 712.0L1231.0 718.4L1231.5 724.7L1232.0 730.9L1232.5 737.0L1233.1 743.0L1233.6 748.8L1234.1 754.5L1234.6 760.0L1235.2 765.3L1235.7 770.4L1236.2 775.3L1236.8 780.0L1237.3 784.5L1237.8 788.7L1238.3 792.6L1238.9 796.3L1239.4 799.7L1239.9 802.9L1240.5 805.7L1241.0 808.2L1241.5 810.5L1242.0 812.4L1242.6 814.0L1243.1 815.3L1243.6 816.3L1244.1 816.9L1244.7 817.3L1245.2 817.3L1245.7 816.9L1246.3 816.3L1246.8 815.3L1247.3 814.0L1247.8 812.4L1248.4 810.4L1248.9 808.2L1249.4 805.6L1249.9 802.8L1250.5 799.6L1251.0 796.2L1251.5 792.5L1252.1 788.6L1252.6 784.3L1253.1 779.9L1253.6 775.2L1254.2 770.3L1254.7 765.2L1255.2 759.8L1255.7 754.3L1256.3 748.6L1256.8 742.8L1257.3 736.8L1257.9 730.8L1258.4 724.5L1258.9 718.2L1259.4 711.9L1260.0 705.4L1260.5 698.9L1261.0 692.4L1261.6 685.9L1262.1 679.3L1262.6 672.8L1263.1 666.3L1263.7 659.9L1264.2 653.5L1264.7 647.2L1265.2 641.1L1265.8 635.0L1266.3 629.0L1266.8 623.2L1267.4 617.6L1267.9 612.1L1268.4 606.8L1268.9 601.8L1269.5 596.9L1270.0 592.2L1270.5 587.8L1271.0 583.6L1271.6 579.7L1272.1 576.1L1272.6 572.7L1273.2 569.6L1273.7 566.9L1274.2 564.4L1274.7 562.2L1275.3 560.3L1275.8 558.7L1276.3 557.5L1276.8 556.6L1277.4 556.0L1277.9 555.7L1278.4 555.8L1279.0 556.2L1279.5 556.9L1280.0 557.9L1280.5 559.3L1281.1 560.9L1281.6 562.9L1282.1 565.2L1282.7 567.8L1283.2 570.7L1283.7 573.9L1284.2 577.4L1284.8 581.1L1285.3 585.1L1285.8 589.4L1286.3 593.9L1286.9 598.6L1287.4 603.6L1287.9 608.7L1288.5 614.1L1289.0 619.6L1289.5 625.3L1290.0 631.2L1290.6 637.2L1291.1 643.3L1291.6 649.5L1292.1 655.8L1292.7 662.2L1293.2 668.7L1293.7 675.2L1294.3 681.7L1294.8 688.2L1295.3 694.8L1295.8 701.3L1296.4 707.8L1296.9 714.2L1297.4 720.5L1297.9 726.8L1298.5 733.0L1299.0 739.0L1299.5 745.0L1300.1 750.7L1300.6 756.3L1301.1 761.8L1301.6 767.0L1302.2 772.1L1302.7 776.9L1303.2 781.5L1303.8 785.9L1304.3 790.0L1304.8 793.9L1305.3 797.5L1305.9 800.8L1306.4 803.8L1306.9 806.6L1307.4 809.0L1308.0 811.2L1308.5 813.0L1309.0 814.5L1309.6 815.7L1310.1 816.5L1310.6 817.1L1311.1 817.3L1311.7 817.2L1312.2 816.7L1312.7 816.0L1313.2 814.9L1313.8 813.5L1314.3 811.7L1314.8 809.7L1315.4 807.4L1315.9 804.7L1316.4 801.8L1316.9 798.5L1317.5 795.0L1318.0 791.2L1318.5 787.2L1319.0 782.9L1319.6 778.3L1320.1 773.6L1320.6 768.6L1321.2 763.4L1321.7 758.0L1322.2 752.4L1322.7 746.7L1323.3 740.8L1323.8 734.8L1324.3 728.7L1324.9 722.4L1325.4 716.1L1325.9 709.7L1326.4 703.2L1327.0 696.7L1327.5 690.2L1328.0 683.7L1328.5 677.1L1329.1 670.6L1329.6 664.2L1330.1 657.7L1330.7 651.4L1331.2 645.1L1331.7 639.0L1332.2 633.0L1332.8 627.1L1333.3 621.3L1333.8 615.7L1334.3 610.3L1334.9 605.1L1335.4 600.1L1335.9 595.3L1336.5 590.7L1337.0 586.4L1337.5 582.3L1338.0 578.5L1338.6 574.9L1339.1 571.7L1339.6 568.7L1340.1 566.0L1340.7 563.6L1341.2 561.5L1341.7 559.7L1342.3 558.3L1342.8 557.2L1343.3 556.3L1343.8 555.9L1344.4 555.7L1344.9 555.9L1345.4 556.4L1346.0 557.2L1346.5 558.3L1347.0 559.8L1347.5 561.6L1348.1 563.7L1348.6 566.1L1349.1 568.8L1349.6 571.8L1350.2 575.1L1350.7 578.6L1351.2 582.4L1351.8 586.5L1352.3 590.9L1352.8 595.5L1353.3 600.3L1353.9 605.3L1354.4 610.5L1354.9 615.9L1355.4 621.5L1356.0 627.3L1356.5 633.2L1357.0 639.2L1357.6 645.4L1358.1 651.6L1358.6 658.0L1359.1 664.4L1359.7 670.9L1360.2 677.4L1360.7 683.9L1361.2 690.4L1361.8 697.0L1362.3 703.5L1362.8 709.9L1363.4 716.3L1363.9 722.7L1364.4 728.9L1364.9 735.0L1365.5 741.0L1366.0 746.9L1366.5 752.6L1367.1 758.2L1367.6 763.6L1368.1 768.8L1368.6 773.7" stroke="#00ff00" stroke-dasharray="19.1 18.8" stroke-dashoffset="13" stroke-linejoin="round"/>
<path d="M1368.5 773.8V659.0" stroke="#00ff00" stroke-width="6.4" stroke-dasharray="0 6 33.15 4.85 33.1 4.8 40"/>
<path d="M1368.6 686.5L1579.0 686.5" stroke="#00ff00" stroke-dasharray="19.1 18.8" stroke-dashoffset="1.93"/>
</g>
<text class="t" transform="translate(945.1 890.2) rotate(0.03) scale(1 1)" text-anchor="middle">0</text>
<text class="t" transform="translate(1156.1 890.2) rotate(0.03) scale(1 1)" text-anchor="middle">50</text>
<text class="t" transform="translate(1367.1 890.2) rotate(0.03) scale(1 1)" text-anchor="middle">100</text>
<text class="t" transform="translate(1578.1 890.2) rotate(0.03) scale(1 1)" text-anchor="middle">150</text>
<text class="t" transform="translate(935.6 862.1) rotate(0.03) scale(1 1)" text-anchor="end">-0.5</text>
<text class="t" transform="translate(935.6 698.6) rotate(0.03) scale(1 1)" text-anchor="end">0</text>
<text class="t" transform="translate(935.6 535.1) rotate(0.03) scale(1 1)" text-anchor="end">0.5</text>
</g>
<g>
<path d="M322 978V1305M533 978V1305M111 1141.5H744" stroke="#dfdfdf" stroke-width="2" fill="none"/>
<path d="M111 978H744V1305H111ZM322 1305v-6.5M322 978v6.5M533 1305v-6.5M533 978v6.5M111 1141.5h6.5M744 1141.5h-6.5" stroke="#262626" stroke-width="2" fill="none" stroke-linejoin="miter"/>
<g clip-path="url(#c4)" fill="none" stroke-width="6.4">
<path d="M111.0 1141.5L322.0 1141.5L322.0 1088.1L322.5 1094.2L323.1 1100.3L323.6 1106.6L324.1 1112.9L324.6 1119.3L325.2 1125.8L325.7 1132.3L326.2 1138.8L326.7 1145.4L327.3 1151.9L327.8 1158.4L328.3 1164.9L328.9 1171.3L329.4 1177.6L329.9 1183.8L330.4 1190.0L331.0 1196.0L331.5 1201.9L332.0 1207.6L332.6 1213.1L333.1 1218.5L333.6 1223.7L334.1 1228.7L334.7 1233.5L335.2 1238.0L335.7 1242.3L336.2 1246.3L336.8 1250.1L337.3 1253.6L337.8 1256.8L338.4 1259.8L338.9 1262.4L339.4 1264.8L339.9 1266.8L340.5 1268.5L341.0 1269.9L341.5 1271.0L342.0 1271.8L342.6 1272.2L343.1 1272.3L343.6 1272.1L344.2 1271.5L344.7 1270.7L345.2 1269.5L345.7 1267.9L346.3 1266.1L346.8 1264.0L347.3 1261.5L347.8 1258.8L348.4 1255.7L348.9 1252.4L349.4 1248.8L350.0 1244.9L350.5 1240.8L351.0 1236.4L351.5 1231.8L352.1 1227.0L352.6 1221.9L353.1 1216.6L353.6 1211.2L354.2 1205.6L354.7 1199.8L355.2 1193.9L355.8 1187.8L356.3 1181.6L356.8 1175.4L357.3 1169.0L357.9 1162.6L358.4 1156.1L358.9 1149.6L359.5 1143.1L360.0 1136.5L360.5 1130.0L361.0 1123.5L361.6 1117.0L362.1 1110.7L362.6 1104.3L363.1 1098.1L363.7 1092.0L364.2 1086.0L364.7 1080.2L365.3 1074.5L365.8 1068.9L366.3 1063.6L366.8 1058.4L367.4 1053.5L367.9 1048.8L368.4 1044.3L368.9 1040.0L369.5 1036.0L370.0 1032.3L370.5 1028.8L371.1 1025.6L371.6 1022.8L372.1 1020.2L372.6 1017.9L373.2 1015.9L373.7 1014.2L374.2 1012.9L374.8 1011.9L375.3 1011.1L375.8 1010.8L376.3 1010.7L376.9 1011.0L377.4 1011.6L377.9 1012.5L378.4 1013.8L379.0 1015.3L379.5 1017.2L380.0 1019.4L380.6 1021.9L381.1 1024.7L381.6 1027.8L382.1 1031.2L382.7 1034.8L383.2 1038.8L383.7 1042.9L384.2 1047.3L384.8 1052.0L385.3 1056.9L385.8 1062.0L386.4 1067.3L386.9 1072.7L387.4 1078.4L387.9 1084.2L388.5 1090.1L389.0 1096.2L389.5 1102.4L390.0 1108.7L390.6 1115.1L391.1 1121.5L391.6 1128.0L392.2 1134.5L392.7 1141.0L393.2 1147.6L393.7 1154.1L394.3 1160.6L394.8 1167.0L395.3 1173.4L395.9 1179.7L396.4 1185.9L396.9 1192.0L397.4 1198.0L398.0 1203.8L398.5 1209.5L399.0 1215.0L399.5 1220.3L400.1 1225.4L400.6 1230.3L401.1 1235.0L401.7 1239.5L402.2 1243.7L402.7 1247.6L403.2 1251.3L403.8 1254.7L404.3 1257.9L404.8 1260.7L405.3 1263.2L405.9 1265.5L406.4 1267.4L406.9 1269.0L407.5 1270.3L408.0 1271.3L408.5 1271.9L409.0 1272.3L409.6 1272.3L410.1 1271.9L410.6 1271.3L411.1 1270.3L411.7 1269.0L412.2 1267.4L412.7 1265.4L413.3 1263.2L413.8 1260.6L414.3 1257.8L414.8 1254.6L415.4 1251.2L415.9 1247.5L416.4 1243.6L416.9 1239.3L417.5 1234.9L418.0 1230.2L418.5 1225.3L419.1 1220.2L419.6 1214.8L420.1 1209.3L420.6 1203.6L421.2 1197.8L421.7 1191.8L422.2 1185.8L422.8 1179.5L423.3 1173.2L423.8 1166.9L424.3 1160.4L424.9 1153.9L425.4 1147.4L425.9 1140.9L426.4 1134.3L427.0 1127.8L427.5 1121.3L428.0 1114.9L428.6 1108.5L429.1 1102.2L429.6 1096.1L430.1 1090.0L430.7 1084.0L431.2 1078.2L431.7 1072.6L432.2 1067.1L432.8 1061.8L433.3 1056.8L433.8 1051.9L434.4 1047.2L434.9 1042.8L435.4 1038.6L435.9 1034.7L436.5 1031.1L437.0 1027.7L437.5 1024.6L438.1 1021.9L438.6 1019.4L439.1 1017.2L439.6 1015.3L440.2 1013.7L440.7 1012.5L441.2 1011.6L441.7 1011.0L442.3 1010.7L442.8 1010.8L443.3 1011.2L443.9 1011.9L444.4 1012.9L444.9 1014.3L445.4 1015.9L446.0 1017.9L446.5 1020.2L447.0 1022.8L447.5 1025.7L448.1 1028.9L448.6 1032.4L449.1 1036.1L449.7 1040.1L450.2 1044.4L450.7 1048.9L451.2 1053.6L451.8 1058.6L452.3 1063.7L452.8 1069.1L453.3 1074.6L453.9 1080.3L454.4 1086.2L454.9 1092.2L455.5 1098.3L456.0 1104.5L456.5 1110.8L457.0 1117.2L457.6 1123.7L458.1 1130.2L458.6 1136.7L459.1 1143.2L459.7 1149.8L460.2 1156.3L460.7 1162.8L461.3 1169.2L461.8 1175.5L462.3 1181.8L462.8 1188.0L463.4 1194.0L463.9 1200.0L464.4 1205.7L465.0 1211.3L465.5 1216.8L466.0 1222.0L466.5 1227.1L467.1 1231.9L467.6 1236.5L468.1 1240.9L468.6 1245.0L469.2 1248.9L469.7 1252.5L470.2 1255.8L470.8 1258.8L471.3 1261.6L471.8 1264.0L472.3 1266.2L472.9 1268.0L473.4 1269.5L473.9 1270.7L474.4 1271.5L475.0 1272.1L475.5 1272.3L476.0 1272.2L476.6 1271.7L477.1 1271.0L477.6 1269.9L478.1 1268.5L478.7 1266.7L479.2 1264.7L479.7 1262.4L480.2 1259.7L480.8 1256.8L481.3 1253.5L481.8 1250.0L482.4 1246.2L482.9 1242.2L483.4 1237.9L483.9 1233.3L484.5 1228.6L485.0 1223.6L485.5 1218.4L486.1 1213.0L486.6 1207.4L487.1 1201.7L487.6 1195.8L488.2 1189.8L488.7 1183.7L489.2 1177.4L489.7 1171.1L490.3 1164.7L490.8 1158.2L491.3 1151.7L491.9 1145.2L492.4 1138.7L492.9 1132.1L493.4 1125.6L494.0 1119.2L494.5 1112.7L495.0 1106.4L495.5 1100.1L496.1 1094.0L496.6 1088.0L497.1 1082.1L497.7 1076.3L498.2 1070.7L498.7 1065.3L499.2 1060.1L499.8 1055.1L500.3 1050.3L500.8 1045.7L501.4 1041.4L501.9 1037.3L502.4 1033.5L502.9 1029.9L503.5 1026.7L504.0 1023.7L504.5 1021.0L505.0 1018.6L505.6 1016.5L506.1 1014.7L506.6 1013.3L507.2 1012.2L507.7 1011.3L508.2 1010.9L508.7 1010.7L509.3 1010.9L509.8 1011.4L510.3 1012.2L510.8 1013.3L511.4 1014.8L511.9 1016.6L512.4 1018.7L513.0 1021.1L513.5 1023.8L514.0 1026.8L514.5 1030.1L515.1 1033.6L515.6 1037.4L516.1 1041.5L516.6 1045.9L517.2 1050.5L517.7 1055.3L518.2 1060.3L518.8 1065.5L519.3 1070.9L519.8 1076.5L520.3 1082.3L520.9 1088.2L521.4 1094.2L521.9 1100.4L522.5 1106.6L523.0 1113.0L523.5 1119.4L524.0 1125.9L524.6 1132.4L525.1 1138.9L525.6 1145.4L526.1 1152.0L526.7 1158.5L527.2 1164.9L527.7 1171.3L528.3 1177.7L528.8 1183.9L529.3 1190.0L529.8 1196.0L530.4 1201.9L530.9 1207.6L531.4 1213.2L531.9 1218.6L532.5 1223.8L533.0 1228.7L533.0 1141.5L744.0 1141.5" stroke="#ff0000" stroke-linejoin="round"/>
<path d="M111.0 1141.5L322.6 1141.5" stroke="#00ff00" stroke-dasharray="19.1 18.8"/>
<path d="M322.6 1149.5V1092.6" stroke="#00ff00" stroke-width="6.8"/>
<path d="M322.6 1088.1L323.2 1094.2L323.7 1100.3L324.2 1106.6L324.7 1112.9L325.3 1119.3L325.8 1125.8L326.3 1132.3L326.9 1138.8L327.4 1145.4L327.9 1151.9L328.4 1158.4L329.0 1164.9L329.5 1171.3L330.0 1177.6L330.5 1183.8L331.1 1190.0L331.6 1196.0L332.1 1201.9L332.7 1207.6L333.2 1213.1L333.7 1218.5L334.2 1223.7L334.8 1228.7L335.3 1233.5L335.8 1238.0L336.3 1242.3L336.9 1246.3L337.4 1250.1L337.9 1253.6L338.5 1256.8L339.0 1259.8L339.5 1262.4L340.0 1264.8L340.6 1266.8L341.1 1268.5L341.6 1269.9L342.2 1271.0L342.7 1271.8L343.2 1272.2L343.7 1272.3L344.3 1272.1L344.8 1271.5L345.3 1270.7L345.8 1269.5L346.4 1267.9L346.9 1266.1L347.4 1264.0L348.0 1261.5L348.5 1258.8L349.0 1255.7L349.5 1252.4L350.1 1248.8L350.6 1244.9L351.1 1240.8L351.6 1236.4L352.2 1231.8L352.7 1227.0L353.2 1221.9L353.8 1216.6L354.3 1211.2L354.8 1205.6L355.3 1199.8L355.9 1193.9L356.4 1187.8L356.9 1181.6L357.4 1175.4L358.0 1169.0L358.5 1162.6L359.0 1156.1L359.6 1149.6L360.1 1143.1L360.6 1136.5L361.1 1130.0L361.7 1123.5L362.2 1117.0L362.7 1110.7L363.3 1104.3L363.8 1098.1L364.3 1092.0L364.8 1086.0L365.4 1080.2L365.9 1074.5L366.4 1068.9L366.9 1063.6L367.5 1058.4L368.0 1053.5L368.5 1048.8L369.1 1044.3L369.6 1040.0L370.1 1036.0L370.6 1032.3L371.2 1028.8L371.7 1025.6L372.2 1022.8L372.7 1020.2L373.3 1017.9L373.8 1015.9L374.3 1014.2L374.9 1012.9L375.4 1011.9L375.9 1011.1L376.4 1010.8L377.0 1010.7L377.5 1011.0L378.0 1011.6L378.5 1012.5L379.1 1013.8L379.6 1015.3L380.1 1017.2L380.7 1019.4L381.2 1021.9L381.7 1024.7L382.2 1027.8L382.8 1031.2L383.3 1034.8L383.8 1038.8L384.4 1042.9L384.9 1047.3L385.4 1052.0L385.9 1056.9L386.5 1062.0L387.0 1067.3L387.5 1072.7L388.0 1078.4L388.6 1084.2L389.1 1090.1L389.6 1096.2L390.2 1102.4L390.7 1108.7L391.2 1115.1L391.7 1121.5L392.3 1128.0L392.8 1134.5L393.3 1141.0L393.8 1147.6L394.4 1154.1L394.9 1160.6L395.4 1167.0L396.0 1173.4L396.5 1179.7L397.0 1185.9L397.5 1192.0L398.1 1198.0L398.6 1203.8L399.1 1209.5L399.6 1215.0L400.2 1220.3L400.7 1225.4L401.2 1230.3L401.8 1235.0L402.3 1239.5L402.8 1243.7L403.3 1247.6L403.9 1251.3L404.4 1254.7L404.9 1257.9L405.5 1260.7L406.0 1263.2L406.5 1265.5L407.0 1267.4L407.6 1269.0L408.1 1270.3L408.6 1271.3L409.1 1271.9L409.7 1272.3L410.2 1272.3L410.7 1271.9L411.3 1271.3L411.8 1270.3L412.3 1269.0L412.8 1267.4L413.4 1265.4L413.9 1263.2L414.4 1260.6L414.9 1257.8L415.5 1254.6L416.0 1251.2L416.5 1247.5L417.1 1243.6L417.6 1239.3L418.1 1234.9L418.6 1230.2L419.2 1225.3L419.7 1220.2L420.2 1214.8L420.7 1209.3L421.3 1203.6L421.8 1197.8L422.3 1191.8L422.9 1185.8L423.4 1179.5L423.9 1173.2L424.4 1166.9L425.0 1160.4L425.5 1153.9L426.0 1147.4L426.6 1140.9L427.1 1134.3L427.6 1127.8L428.1 1121.3L428.7 1114.9L429.2 1108.5L429.7 1102.2L430.2 1096.1L430.8 1090.0L431.3 1084.0L431.8 1078.2L432.4 1072.6L432.9 1067.1L433.4 1061.8L433.9 1056.8L434.5 1051.9L435.0 1047.2L435.5 1042.8L436.0 1038.6L436.6 1034.7L437.1 1031.1L437.6 1027.7L438.2 1024.6L438.7 1021.9L439.2 1019.4L439.7 1017.2L440.3 1015.3L440.8 1013.7L441.3 1012.5L441.8 1011.6L442.4 1011.0L442.9 1010.7L443.4 1010.8L444.0 1011.2L444.5 1011.9L445.0 1012.9L445.5 1014.3L446.1 1015.9L446.6 1017.9L447.1 1020.2L447.7 1022.8L448.2 1025.7L448.7 1028.9L449.2 1032.4L449.8 1036.1L450.3 1040.1L450.8 1044.4L451.3 1048.9L451.9 1053.6L452.4 1058.6L452.9 1063.7L453.5 1069.1L454.0 1074.6L454.5 1080.3L455.0 1086.2L455.6 1092.2L456.1 1098.3L456.6 1104.5L457.1 1110.8L457.7 1117.2L458.2 1123.7L458.7 1130.2L459.3 1136.7L459.8 1143.2L460.3 1149.8L460.8 1156.3L461.4 1162.8L461.9 1169.2L462.4 1175.5L462.9 1181.8L463.5 1188.0L464.0 1194.0L464.5 1200.0L465.1 1205.7L465.6 1211.3L466.1 1216.8L466.6 1222.0L467.2 1227.1L467.7 1231.9L468.2 1236.5L468.8 1240.9L469.3 1245.0L469.8 1248.9L470.3 1252.5L470.9 1255.8L471.4 1258.8L471.9 1261.6L472.4 1264.0L473.0 1266.2L473.5 1268.0L474.0 1269.5L474.6 1270.7L475.1 1271.5L475.6 1272.1L476.1 1272.3L476.7 1272.2L477.2 1271.7L477.7 1271.0L478.2 1269.9L478.8 1268.5L479.3 1266.7L479.8 1264.7L480.4 1262.4L480.9 1259.7L481.4 1256.8L481.9 1253.5L482.5 1250.0L483.0 1246.2L483.5 1242.2L484.0 1237.9L484.6 1233.3L485.1 1228.6L485.6 1223.6L486.2 1218.4L486.7 1213.0L487.2 1207.4L487.7 1201.7L488.3 1195.8L488.8 1189.8L489.3 1183.7L489.9 1177.4L490.4 1171.1L490.9 1164.7L491.4 1158.2L492.0 1151.7L492.5 1145.2L493.0 1138.7L493.5 1132.1L494.1 1125.6L494.6 1119.2L495.1 1112.7L495.7 1106.4L496.2 1100.1L496.7 1094.0L497.2 1088.0L497.8 1082.1L498.3 1076.3L498.8 1070.7L499.3 1065.3L499.9 1060.1L500.4 1055.1L500.9 1050.3L501.5 1045.7L502.0 1041.4L502.5 1037.3L503.0 1033.5L503.6 1029.9L504.1 1026.7L504.6 1023.7L505.1 1021.0L505.7 1018.6L506.2 1016.5L506.7 1014.7L507.3 1013.3L507.8 1012.2L508.3 1011.3L508.8 1010.9L509.4 1010.7L509.9 1010.9L510.4 1011.4L511.0 1012.2L511.5 1013.3L512.0 1014.8L512.5 1016.6L513.1 1018.7L513.6 1021.1L514.1 1023.8L514.6 1026.8L515.2 1030.1L515.7 1033.6L516.2 1037.4L516.8 1041.5L517.3 1045.9L517.8 1050.5L518.3 1055.3L518.9 1060.3L519.4 1065.5L519.9 1070.9L520.4 1076.5L521.0 1082.3L521.5 1088.2L522.0 1094.2L522.6 1100.4L523.1 1106.6L523.6 1113.0L524.1 1119.4L524.7 1125.9L525.2 1132.4L525.7 1138.9L526.2 1145.4L526.8 1152.0L527.3 1158.5L527.8 1164.9L528.4 1171.3L528.9 1177.7L529.4 1183.9L529.9 1190.0L530.5 1196.0L531.0 1201.9L531.5 1207.6L532.1 1213.2L532.6 1218.6L533.1 1223.8L533.6 1228.7" stroke="#00ff00" stroke-dasharray="19.1 18.8" stroke-dashoffset="13" stroke-linejoin="round"/>
<path d="M533.5 1228.8V1114.0" stroke="#00ff00" stroke-width="6.4" stroke-dasharray="0 6 33.15 4.85 33.1 4.8 40"/>
<path d="M533.6 1141.5L744.0 1141.5" stroke="#00ff00" stroke-dasharray="19.1 18.8" stroke-dashoffset="1.93"/>
</g>
<text class="t" transform="translate(110.1 1345.4) rotate(0.03) scale(1 1)" text-anchor="middle">0</text>
<text class="t" transform="translate(321.1 1345.4) rotate(0.03) scale(1 1)" text-anchor="middle">50</text>
<text class="t" transform="translate(532.1 1345.4) rotate(0.03) scale(1 1)" text-anchor="middle">100</text>
<text class="t" transform="translate(743.1 1345.4) rotate(0.03) scale(1 1)" text-anchor="middle">150</text>
<text class="t" transform="translate(100.6 1317.1) rotate(0.03) scale(1 1)" text-anchor="end">-0.5</text>
<text class="t" transform="translate(100.6 1153.6) rotate(0.03) scale(1 1)" text-anchor="end">0</text>
<text class="t" transform="translate(100.6 990.1) rotate(0.03) scale(1 1)" text-anchor="end">0.5</text>
</g>
<g>
<path d="M1157 978V1305M1368 978V1305M946 1141.5H1579" stroke="#dfdfdf" stroke-width="2" fill="none"/>
<path d="M946 978H1579V1305H946ZM1157 1305v-6.5M1157 978v6.5M1368 1305v-6.5M1368 978v6.5M946 1141.5h6.5M1579 1141.5h-6.5" stroke="#262626" stroke-width="2" fill="none" stroke-linejoin="miter"/>
<g clip-path="url(#c5)" fill="none" stroke-width="6.4">
<path d="M946.0 1141.5L1157.0 1141.5L1157.0 1088.1L1157.5 1094.2L1158.1 1100.3L1158.6 1106.6L1159.1 1112.9L1159.6 1119.3L1160.2 1125.8L1160.7 1132.3L1161.2 1138.8L1161.7 1145.4L1162.3 1151.9L1162.8 1158.4L1163.3 1164.9L1163.9 1171.3L1164.4 1177.6L1164.9 1183.8L1165.4 1190.0L1166.0 1196.0L1166.5 1201.9L1167.0 1207.6L1167.5 1213.1L1168.1 1218.5L1168.6 1223.7L1169.1 1228.7L1169.7 1233.5L1170.2 1238.0L1170.7 1242.3L1171.2 1246.3L1171.8 1250.1L1172.3 1253.6L1172.8 1256.8L1173.4 1259.8L1173.9 1262.4L1174.4 1264.8L1174.9 1266.8L1175.5 1268.5L1176.0 1269.9L1176.5 1271.0L1177.0 1271.8L1177.6 1272.2L1178.1 1272.3L1178.6 1272.1L1179.2 1271.5L1179.7 1270.7L1180.2 1269.5L1180.7 1267.9L1181.3 1266.1L1181.8 1264.0L1182.3 1261.5L1182.8 1258.8L1183.4 1255.7L1183.9 1252.4L1184.4 1248.8L1185.0 1244.9L1185.5 1240.8L1186.0 1236.4L1186.5 1231.8L1187.1 1227.0L1187.6 1221.9L1188.1 1216.6L1188.7 1211.2L1189.2 1205.6L1189.7 1199.8L1190.2 1193.9L1190.8 1187.8L1191.3 1181.6L1191.8 1175.4L1192.3 1169.0L1192.9 1162.6L1193.4 1156.1L1193.9 1149.6L1194.5 1143.1L1195.0 1136.5L1195.5 1130.0L1196.0 1123.5L1196.6 1117.0L1197.1 1110.7L1197.6 1104.3L1198.1 1098.1L1198.7 1092.0L1199.2 1086.0L1199.7 1080.2L1200.3 1074.5L1200.8 1068.9L1201.3 1063.6L1201.8 1058.4L1202.4 1053.5L1202.9 1048.8L1203.4 1044.3L1203.9 1040.0L1204.5 1036.0L1205.0 1032.3L1205.5 1028.8L1206.1 1025.6L1206.6 1022.8L1207.1 1020.2L1207.6 1017.9L1208.2 1015.9L1208.7 1014.2L1209.2 1012.9L1209.8 1011.9L1210.3 1011.1L1210.8 1010.8L1211.3 1010.7L1211.9 1011.0L1212.4 1011.6L1212.9 1012.5L1213.4 1013.8L1214.0 1015.3L1214.5 1017.2L1215.0 1019.4L1215.6 1021.9L1216.1 1024.7L1216.6 1027.8L1217.1 1031.2L1217.7 1034.8L1218.2 1038.8L1218.7 1042.9L1219.2 1047.3L1219.8 1052.0L1220.3 1056.9L1220.8 1062.0L1221.4 1067.3L1221.9 1072.7L1222.4 1078.4L1222.9 1084.2L1223.5 1090.1L1224.0 1096.2L1224.5 1102.4L1225.0 1108.7L1225.6 1115.1L1226.1 1121.5L1226.6 1128.0L1227.2 1134.5L1227.7 1141.0L1228.2 1147.6L1228.7 1154.1L1229.3 1160.6L1229.8 1167.0L1230.3 1173.4L1230.8 1179.7L1231.4 1185.9L1231.9 1192.0L1232.4 1198.0L1233.0 1203.8L1233.5 1209.5L1234.0 1215.0L1234.5 1220.3L1235.1 1225.4L1235.6 1230.3L1236.1 1235.0L1236.7 1239.5L1237.2 1243.7L1237.7 1247.6L1238.2 1251.3L1238.8 1254.7L1239.3 1257.9L1239.8 1260.7L1240.3 1263.2L1240.9 1265.5L1241.4 1267.4L1241.9 1269.0L1242.5 1270.3L1243.0 1271.3L1243.5 1271.9L1244.0 1272.3L1244.6 1272.3L1245.1 1271.9L1245.6 1271.3L1246.1 1270.3L1246.7 1269.0L1247.2 1267.4L1247.7 1265.4L1248.3 1263.2L1248.8 1260.6L1249.3 1257.8L1249.8 1254.6L1250.4 1251.2L1250.9 1247.5L1251.4 1243.6L1252.0 1239.3L1252.5 1234.9L1253.0 1230.2L1253.5 1225.3L1254.1 1220.2L1254.6 1214.8L1255.1 1209.3L1255.6 1203.6L1256.2 1197.8L1256.7 1191.8L1257.2 1185.8L1257.8 1179.5L1258.3 1173.2L1258.8 1166.9L1259.3 1160.4L1259.9 1153.9L1260.4 1147.4L1260.9 1140.9L1261.4 1134.3L1262.0 1127.8L1262.5 1121.3L1263.0 1114.9L1263.6 1108.5L1264.1 1102.2L1264.6 1096.1L1265.1 1090.0L1265.7 1084.0L1266.2 1078.2L1266.7 1072.6L1267.2 1067.1L1267.8 1061.8L1268.3 1056.8L1268.8 1051.9L1269.4 1047.2L1269.9 1042.8L1270.4 1038.6L1270.9 1034.7L1271.5 1031.1L1272.0 1027.7L1272.5 1024.6L1273.0 1021.9L1273.6 1019.4L1274.1 1017.2L1274.6 1015.3L1275.2 1013.7L1275.7 1012.5L1276.2 1011.6L1276.7 1011.0L1277.3 1010.7L1277.8 1010.8L1278.3 1011.2L1278.9 1011.9L1279.4 1012.9L1279.9 1014.3L1280.4 1015.9L1281.0 1017.9L1281.5 1020.2L1282.0 1022.8L1282.5 1025.7L1283.1 1028.9L1283.6 1032.4L1284.1 1036.1L1284.7 1040.1L1285.2 1044.4L1285.7 1048.9L1286.2 1053.6L1286.8 1058.6L1287.3 1063.7L1287.8 1069.1L1288.3 1074.6L1288.9 1080.3L1289.4 1086.2L1289.9 1092.2L1290.5 1098.3L1291.0 1104.5L1291.5 1110.8L1292.0 1117.2L1292.6 1123.7L1293.1 1130.2L1293.6 1136.7L1294.2 1143.2L1294.7 1149.8L1295.2 1156.3L1295.7 1162.8L1296.3 1169.2L1296.8 1175.5L1297.3 1181.8L1297.8 1188.0L1298.4 1194.0L1298.9 1200.0L1299.4 1205.7L1300.0 1211.3L1300.5 1216.8L1301.0 1222.0L1301.5 1227.1L1302.1 1231.9L1302.6 1236.5L1303.1 1240.9L1303.6 1245.0L1304.2 1248.9L1304.7 1252.5L1305.2 1255.8L1305.8 1258.8L1306.3 1261.6L1306.8 1264.0L1307.3 1266.2L1307.9 1268.0L1308.4 1269.5L1308.9 1270.7L1309.4 1271.5L1310.0 1272.1L1310.5 1272.3L1311.0 1272.2L1311.6 1271.7L1312.1 1271.0L1312.6 1269.9L1313.1 1268.5L1313.7 1266.7L1314.2 1264.7L1314.7 1262.4L1315.2 1259.7L1315.8 1256.8L1316.3 1253.5L1316.8 1250.0L1317.4 1246.2L1317.9 1242.2L1318.4 1237.9L1318.9 1233.3L1319.5 1228.6L1320.0 1223.6L1320.5 1218.4L1321.1 1213.0L1321.6 1207.4L1322.1 1201.7L1322.6 1195.8L1323.2 1189.8L1323.7 1183.7L1324.2 1177.4L1324.7 1171.1L1325.3 1164.7L1325.8 1158.2L1326.3 1151.7L1326.9 1145.2L1327.4 1138.7L1327.9 1132.1L1328.4 1125.6L1329.0 1119.2L1329.5 1112.7L1330.0 1106.4L1330.5 1100.1L1331.1 1094.0L1331.6 1088.0L1332.1 1082.1L1332.7 1076.3L1333.2 1070.7L1333.7 1065.3L1334.2 1060.1L1334.8 1055.1L1335.3 1050.3L1335.8 1045.7L1336.3 1041.4L1336.9 1037.3L1337.4 1033.5L1337.9 1029.9L1338.5 1026.7L1339.0 1023.7L1339.5 1021.0L1340.0 1018.6L1340.6 1016.5L1341.1 1014.7L1341.6 1013.3L1342.2 1012.2L1342.7 1011.3L1343.2 1010.9L1343.7 1010.7L1344.3 1010.9L1344.8 1011.4L1345.3 1012.2L1345.8 1013.3L1346.4 1014.8L1346.9 1016.6L1347.4 1018.7L1348.0 1021.1L1348.5 1023.8L1349.0 1026.8L1349.5 1030.1L1350.1 1033.6L1350.6 1037.4L1351.1 1041.5L1351.6 1045.9L1352.2 1050.5L1352.7 1055.3L1353.2 1060.3L1353.8 1065.5L1354.3 1070.9L1354.8 1076.5L1355.3 1082.3L1355.9 1088.2L1356.4 1094.2L1356.9 1100.4L1357.5 1106.6L1358.0 1113.0L1358.5 1119.4L1359.0 1125.9L1359.6 1132.4L1360.1 1138.9L1360.6 1145.4L1361.1 1152.0L1361.7 1158.5L1362.2 1164.9L1362.7 1171.3L1363.3 1177.7L1363.8 1183.9L1364.3 1190.0L1364.8 1196.0L1365.4 1201.9L1365.9 1207.6L1366.4 1213.2L1366.9 1218.6L1367.5 1223.8L1368.0 1228.7L1368.0 1141.5L1579.0 1141.5" stroke="#ff0000" stroke-linejoin="round"/>
<path d="M946.0 1141.5L1157.6 1141.5" stroke="#00ff00" stroke-dasharray="19.1 18.8"/>
<path d="M1157.6 1149.5V1092.6" stroke="#00ff00" stroke-width="6.8"/>
<path d="M1157.6 1088.1L1158.2 1094.2L1158.7 1100.3L1159.2 1106.6L1159.7 1112.9L1160.3 1119.3L1160.8 1125.8L1161.3 1132.3L1161.9 1138.8L1162.4 1145.4L1162.9 1151.9L1163.4 1158.4L1164.0 1164.9L1164.5 1171.3L1165.0 1177.6L1165.5 1183.8L1166.1 1190.0L1166.6 1196.0L1167.1 1201.9L1167.7 1207.6L1168.2 1213.1L1168.7 1218.5L1169.2 1223.7L1169.8 1228.7L1170.3 1233.5L1170.8 1238.0L1171.3 1242.3L1171.9 1246.3L1172.4 1250.1L1172.9 1253.6L1173.5 1256.8L1174.0 1259.8L1174.5 1262.4L1175.0 1264.8L1175.6 1266.8L1176.1 1268.5L1176.6 1269.9L1177.2 1271.0L1177.7 1271.8L1178.2 1272.2L1178.7 1272.3L1179.3 1272.1L1179.8 1271.5L1180.3 1270.7L1180.8 1269.5L1181.4 1267.9L1181.9 1266.1L1182.4 1264.0L1183.0 1261.5L1183.5 1258.8L1184.0 1255.7L1184.5 1252.4L1185.1 1248.8L1185.6 1244.9L1186.1 1240.8L1186.6 1236.4L1187.2 1231.8L1187.7 1227.0L1188.2 1221.9L1188.8 1216.6L1189.3 1211.2L1189.8 1205.6L1190.3 1199.8L1190.9 1193.9L1191.4 1187.8L1191.9 1181.6L1192.4 1175.4L1193.0 1169.0L1193.5 1162.6L1194.0 1156.1L1194.6 1149.6L1195.1 1143.1L1195.6 1136.5L1196.1 1130.0L1196.7 1123.5L1197.2 1117.0L1197.7 1110.7L1198.3 1104.3L1198.8 1098.1L1199.3 1092.0L1199.8 1086.0L1200.4 1080.2L1200.9 1074.5L1201.4 1068.9L1201.9 1063.6L1202.5 1058.4L1203.0 1053.5L1203.5 1048.8L1204.1 1044.3L1204.6 1040.0L1205.1 1036.0L1205.6 1032.3L1206.2 1028.8L1206.7 1025.6L1207.2 1022.8L1207.7 1020.2L1208.3 1017.9L1208.8 1015.9L1209.3 1014.2L1209.9 1012.9L1210.4 1011.9L1210.9 1011.1L1211.4 1010.8L1212.0 1010.7L1212.5 1011.0L1213.0 1011.6L1213.5 1012.5L1214.1 1013.8L1214.6 1015.3L1215.1 1017.2L1215.7 1019.4L1216.2 1021.9L1216.7 1024.7L1217.2 1027.8L1217.8 1031.2L1218.3 1034.8L1218.8 1038.8L1219.4 1042.9L1219.9 1047.3L1220.4 1052.0L1220.9 1056.9L1221.5 1062.0L1222.0 1067.3L1222.5 1072.7L1223.0 1078.4L1223.6 1084.2L1224.1 1090.1L1224.6 1096.2L1225.2 1102.4L1225.7 1108.7L1226.2 1115.1L1226.7 1121.5L1227.3 1128.0L1227.8 1134.5L1228.3 1141.0L1228.8 1147.6L1229.4 1154.1L1229.9 1160.6L1230.4 1167.0L1231.0 1173.4L1231.5 1179.7L1232.0 1185.9L1232.5 1192.0L1233.1 1198.0L1233.6 1203.8L1234.1 1209.5L1234.6 1215.0L1235.2 1220.3L1235.7 1225.4L1236.2 1230.3L1236.8 1235.0L1237.3 1239.5L1237.8 1243.7L1238.3 1247.6L1238.9 1251.3L1239.4 1254.7L1239.9 1257.9L1240.5 1260.7L1241.0 1263.2L1241.5 1265.5L1242.0 1267.4L1242.6 1269.0L1243.1 1270.3L1243.6 1271.3L1244.1 1271.9L1244.7 1272.3L1245.2 1272.3L1245.7 1271.9L1246.3 1271.3L1246.8 1270.3L1247.3 1269.0L1247.8 1267.4L1248.4 1265.4L1248.9 1263.2L1249.4 1260.6L1249.9 1257.8L1250.5 1254.6L1251.0 1251.2L1251.5 1247.5L1252.1 1243.6L1252.6 1239.3L1253.1 1234.9L1253.6 1230.2L1254.2 1225.3L1254.7 1220.2L1255.2 1214.8L1255.7 1209.3L1256.3 1203.6L1256.8 1197.8L1257.3 1191.8L1257.9 1185.8L1258.4 1179.5L1258.9 1173.2L1259.4 1166.9L1260.0 1160.4L1260.5 1153.9L1261.0 1147.4L1261.6 1140.9L1262.1 1134.3L1262.6 1127.8L1263.1 1121.3L1263.7 1114.9L1264.2 1108.5L1264.7 1102.2L1265.2 1096.1L1265.8 1090.0L1266.3 1084.0L1266.8 1078.2L1267.4 1072.6L1267.9 1067.1L1268.4 1061.8L1268.9 1056.8L1269.5 1051.9L1270.0 1047.2L1270.5 1042.8L1271.0 1038.6L1271.6 1034.7L1272.1 1031.1L1272.6 1027.7L1273.2 1024.6L1273.7 1021.9L1274.2 1019.4L1274.7 1017.2L1275.3 1015.3L1275.8 1013.7L1276.3 1012.5L1276.8 1011.6L1277.4 1011.0L1277.9 1010.7L1278.4 1010.8L1279.0 1011.2L1279.5 1011.9L1280.0 1012.9L1280.5 1014.3L1281.1 1015.9L1281.6 1017.9L1282.1 1020.2L1282.7 1022.8L1283.2 1025.7L1283.7 1028.9L1284.2 1032.4L1284.8 1036.1L1285.3 1040.1L1285.8 1044.4L1286.3 1048.9L1286.9 1053.6L1287.4 1058.6L1287.9 1063.7L1288.5 1069.1L1289.0 1074.6L1289.5 1080.3L1290.0 1086.2L1290.6 1092.2L1291.1 1098.3L1291.6 1104.5L1292.1 1110.8L1292.7 1117.2L1293.2 1123.7L1293.7 1130.2L1294.3 1136.7L1294.8 1143.2L1295.3 1149.8L1295.8 1156.3L1296.4 1162.8L1296.9 1169.2L1297.4 1175.5L1297.9 1181.8L1298.5 1188.0L1299.0 1194.0L1299.5 1200.0L1300.1 1205.7L1300.6 1211.3L1301.1 1216.8L1301.6 1222.0L1302.2 1227.1L1302.7 1231.9L1303.2 1236.5L1303.8 1240.9L1304.3 1245.0L1304.8 1248.9L1305.3 1252.5L1305.9 1255.8L1306.4 1258.8L1306.9 1261.6L1307.4 1264.0L1308.0 1266.2L1308.5 1268.0L1309.0 1269.5L1309.6 1270.7L1310.1 1271.5L1310.6 1272.1L1311.1 1272.3L1311.7 1272.2L1312.2 1271.7L1312.7 1271.0L1313.2 1269.9L1313.8 1268.5L1314.3 1266.7L1314.8 1264.7L1315.4 1262.4L1315.9 1259.7L1316.4 1256.8L1316.9 1253.5L1317.5 1250.0L1318.0 1246.2L1318.5 1242.2L1319.0 1237.9L1319.6 1233.3L1320.1 1228.6L1320.6 1223.6L1321.2 1218.4L1321.7 1213.0L1322.2 1207.4L1322.7 1201.7L1323.3 1195.8L1323.8 1189.8L1324.3 1183.7L1324.9 1177.4L1325.4 1171.1L1325.9 1164.7L1326.4 1158.2L1327.0 1151.7L1327.5 1145.2L1328.0 1138.7L1328.5 1132.1L1329.1 1125.6L1329.6 1119.2L1330.1 1112.7L1330.7 1106.4L1331.2 1100.1L1331.7 1094.0L1332.2 1088.0L1332.8 1082.1L1333.3 1076.3L1333.8 1070.7L1334.3 1065.3L1334.9 1060.1L1335.4 1055.1L1335.9 1050.3L1336.5 1045.7L1337.0 1041.4L1337.5 1037.3L1338.0 1033.5L1338.6 1029.9L1339.1 1026.7L1339.6 1023.7L1340.1 1021.0L1340.7 1018.6L1341.2 1016.5L1341.7 1014.7L1342.3 1013.3L1342.8 1012.2L1343.3 1011.3L1343.8 1010.9L1344.4 1010.7L1344.9 1010.9L1345.4 1011.4L1346.0 1012.2L1346.5 1013.3L1347.0 1014.8L1347.5 1016.6L1348.1 1018.7L1348.6 1021.1L1349.1 1023.8L1349.6 1026.8L1350.2 1030.1L1350.7 1033.6L1351.2 1037.4L1351.8 1041.5L1352.3 1045.9L1352.8 1050.5L1353.3 1055.3L1353.9 1060.3L1354.4 1065.5L1354.9 1070.9L1355.4 1076.5L1356.0 1082.3L1356.5 1088.2L1357.0 1094.2L1357.6 1100.4L1358.1 1106.6L1358.6 1113.0L1359.1 1119.4L1359.7 1125.9L1360.2 1132.4L1360.7 1138.9L1361.2 1145.4L1361.8 1152.0L1362.3 1158.5L1362.8 1164.9L1363.4 1171.3L1363.9 1177.7L1364.4 1183.9L1364.9 1190.0L1365.5 1196.0L1366.0 1201.9L1366.5 1207.6L1367.1 1213.2L1367.6 1218.6L1368.1 1223.8L1368.6 1228.7" stroke="#00ff00" stroke-dasharray="19.1 18.8" stroke-dashoffset="13" stroke-linejoin="round"/>
<path d="M1368.5 1228.8V1114.0" stroke="#00ff00" stroke-width="6.4" stroke-dasharray="0 6 33.15 4.85 33.1 4.8 40"/>
<path d="M1368.6 1141.5L1579.0 1141.5" stroke="#00ff00" stroke-dasharray="19.1 18.8" stroke-dashoffset="1.93"/>
</g>
<text class="t" transform="translate(945.1 1345.4) rotate(0.03) scale(1 1)" text-anchor="middle">0</text>
<text class="t" transform="translate(1156.1 1345.4) rotate(0.03) scale(1 1)" text-anchor="middle">50</text>
<text class="t" transform="translate(1367.1 1345.4) rotate(0.03) scale(1 1)" text-anchor="middle">100</text>
<text class="t" transform="translate(1578.1 1345.4) rotate(0.03) scale(1 1)" text-anchor="middle">150</text>
<text class="t" transform="translate(935.6 1317.1) rotate(0.03) scale(1 1)" text-anchor="end">-0.5</text>
<text class="t" transform="translate(935.6 1153.6) rotate(0.03) scale(1 1)" text-anchor="end">0</text>
<text class="t" transform="translate(935.6 990.1) rotate(0.03) scale(1 1)" text-anchor="end">0.5</text>
</g>
<text class="l" x="427.5" y="1394" text-anchor="middle">Time(s)</text>
<text class="l" x="1262.5" y="1394" text-anchor="middle">Time(s)</text>
<path d="M575.3 11.6H670.9" stroke="#ff0000" stroke-width="6.4"/>
<path d="M775 11.6H870" stroke="#00ff00" stroke-width="6.4" stroke-dasharray="19 19"/>
<text x="676.5" y="27.3" style="font-family:'Liberation Sans',sans-serif;font-size:38.3px;fill:#000">Real</text>
<text x="876" y="27.3" style="font-family:'Liberation Sans',sans-serif;font-size:38.3px;fill:#000">Estimated</text>
<g transform="translate(42.2 163.6) rotate(-90)"><text class="si" font-size="36.5" transform="translate(-136.06 0.00) scale(1.131 1)">x</text><text class="s" font-size="50.5492" transform="translate(-105.00 1.94) scale(0.696 1)">(</text><text class="s" font-size="37" transform="translate(-92.02 0.00) scale(1.067 1)">m</text><text class="sl" font-size="46.1283" transform="translate(-59.64 4.58) scale(1.027 1)">/</text><text class="s" font-size="37" transform="translate(-42.42 0.00) scale(1.054 1)">s</text><text class="s" font-size="25.1535" transform="translate(-26.58 -14.20) scale(0.989 1)">2</text><text class="s" font-size="50.5492" transform="translate(-11.42 1.94) scale(0.741 1)">)</text></g>
<g transform="translate(876.6 164.2) rotate(-90)"><text class="si" font-size="36.5" transform="translate(-132.46 0.00) scale(0.859 1)">y</text><text class="s" font-size="50.5492" transform="translate(-105.00 1.94) scale(0.696 1)">(</text><text class="s" font-size="37" transform="translate(-92.02 0.00) scale(1.067 1)">m</text><text class="sl" font-size="46.1283" transform="translate(-59.64 4.58) scale(1.027 1)">/</text><text class="s" font-size="37" transform="translate(-42.42 0.00) scale(1.054 1)">s</text><text class="s" font-size="25.1535" transform="translate(-26.58 -14.20) scale(0.989 1)">2</text><text class="s" font-size="50.5492" transform="translate(-11.42 1.94) scale(0.741 1)">)</text></g>
<g transform="translate(42.2 620.9) rotate(-90)"><text class="si" font-size="36.5" transform="translate(-133.68 0.00) scale(1.079 1)">z</text><text class="s" font-size="50.5492" transform="translate(-105.00 1.94) scale(0.696 1)">(</text><text class="s" font-size="37" transform="translate(-92.02 0.00) scale(1.067 1)">m</text><text class="sl" font-size="46.1283" transform="translate(-59.64 4.58) scale(1.027 1)">/</text><text class="s" font-size="37" transform="translate(-42.42 0.00) scale(1.054 1)">s</text><text class="s" font-size="25.1535" transform="translate(-26.58 -14.20) scale(0.989 1)">2</text><text class="s" font-size="50.5492" transform="translate(-11.42 1.94) scale(0.741 1)">)</text></g>
<g transform="translate(867.6 608) rotate(-90)"><text class="si" font-size="38.5" transform="translate(-161.16 0.00) scale(1.094 1)">ϕ</text><text class="s" font-size="50.5492" transform="translate(-128.12 1.94) scale(0.710 1)">(</text><text class="s" font-size="37" transform="translate(-115.55 0.00) scale(1.127 1)">rad</text><text class="sl" font-size="46.1283" transform="translate(-59.64 4.58) scale(1.027 1)">/</text><text class="s" font-size="37" transform="translate(-42.42 0.00) scale(1.054 1)">s</text><text class="s" font-size="25.1535" transform="translate(-26.58 -14.20) scale(0.989 1)">2</text><text class="s" font-size="50.5492" transform="translate(-11.42 1.94) scale(0.741 1)">)</text></g>
<g transform="translate(32.8 1065.7) rotate(-90)"><text class="si" font-size="38.5" transform="translate(-158.28 0.00) scale(0.985 1)">θ</text><text class="s" font-size="50.5492" transform="translate(-128.12 1.94) scale(0.710 1)">(</text><text class="s" font-size="37" transform="translate(-115.55 0.00) scale(1.127 1)">rad</text><text class="sl" font-size="46.1283" transform="translate(-59.64 4.58) scale(1.027 1)">/</text><text class="s" font-size="37" transform="translate(-42.42 0.00) scale(1.054 1)">s</text><text class="s" font-size="25.1535" transform="translate(-26.58 -14.20) scale(0.989 1)">2</text><text class="s" font-size="50.5492" transform="translate(-11.42 1.94) scale(0.741 1)">)</text></g>
<g transform="translate(867.2 1061.9) rotate(-90)"><text class="si" font-size="41.5" transform="translate(-165.81 0.00) scale(0.929 1)">ψ</text><text class="s" font-size="50.5492" transform="translate(-128.12 1.94) scale(0.710 1)">(</text><text class="s" font-size="37" transform="translate(-115.55 0.00) scale(1.127 1)">rad</text><text class="sl" font-size="46.1283" transform="translate(-59.64 4.58) scale(1.027 1)">/</text><text class="s" font-size="37" transform="translate(-42.42 0.00) scale(1.054 1)">s</text><text class="s" font-size="25.1535" transform="translate(-26.58 -14.20) scale(0.989 1)">2</text><text class="s" font-size="50.5492" transform="translate(-11.42 1.94) scale(0.741 1)">)</text></g>
</svg>
</body></html>
